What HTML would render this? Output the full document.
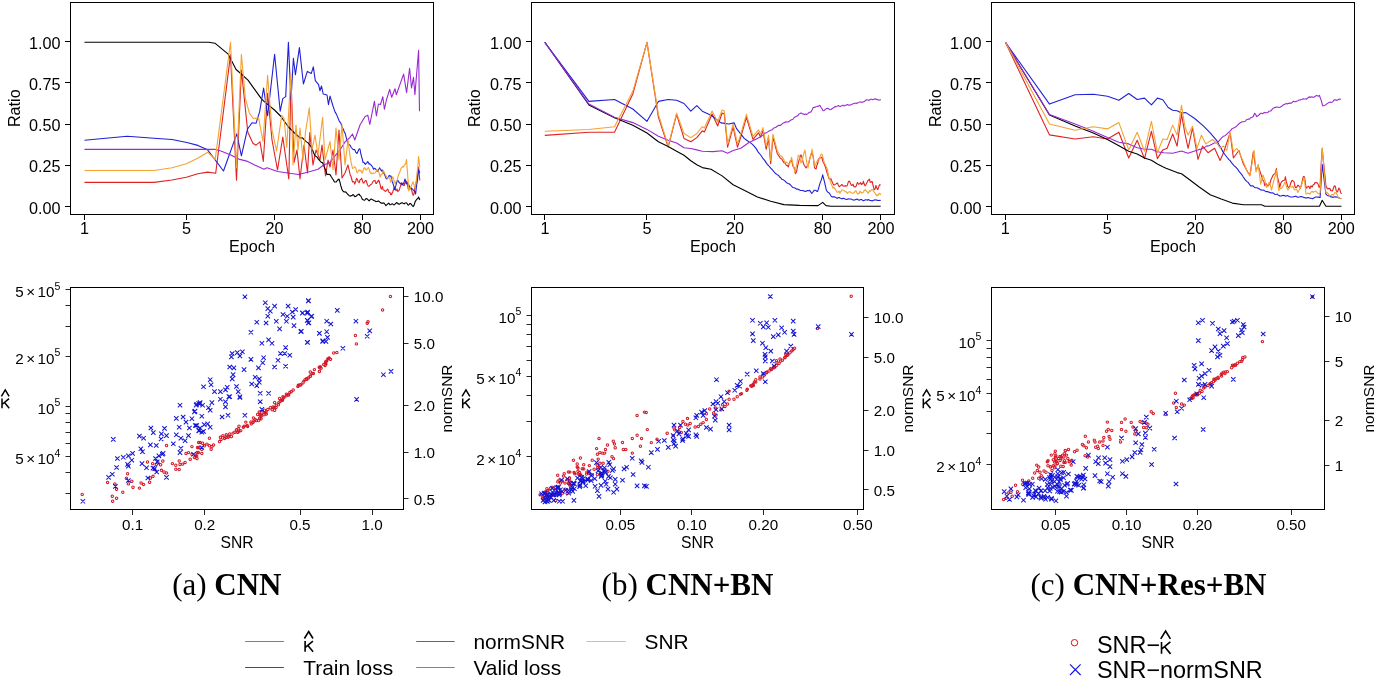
<!DOCTYPE html>
<html><head><meta charset="utf-8"><style>
html,body{margin:0;padding:0;background:#fff;width:1374px;height:679px;overflow:hidden}
svg{display:block;will-change:transform}
</style></head><body>
<svg width="1374" height="679" viewBox="0 0 1374 679">
<rect width="1374" height="679" fill="#fff"/>
<path d="M84.50,182.40 L154.00,182.40 L172.00,180.00 L186.30,177.30 L197.80,173.70 L207.70,172.10 L215.70,173.30 L230.50,54.90 L236.50,180.30 L241.40,70.10 L247.80,132.20 L252.90,143.20 L256.00,145.20 L260.00,141.90 L263.30,161.50 L267.60,93.30 L272.00,140.00 L277.50,170.00 L282.80,137.00 L288.80,179.00 L291.00,80.00 L294.00,162.50 L297.00,150.00 L300.00,179.00 L304.00,145.00 L307.50,173.00 L309.80,132.50 L313.00,165.00 L316.00,150.00 L320.00,160.00 L322.00,145.00 L325.50,176.00 L328.00,160.00 L330.00,167.00 L333.00,150.00 L336.00,175.00 L339.00,130.00 L342.00,178.00 L345.00,173.00 L348.00,165.00 L350.15,174.67 L351.11,176.74 L352.50,182.00 L353.88,181.53 L354.78,184.13 L355.67,181.61 L356.55,178.25 L357.41,179.62 L358.26,181.81 L359.10,182.76 L360.00,180.00 L360.75,179.46 L361.55,178.31 L362.35,180.29 L363.14,183.05 L363.92,182.98 L364.69,181.64 L365.44,180.61 L366.20,180.61 L367.50,185.00 L368.39,186.31 L369.11,186.27 L369.82,185.41 L370.52,184.76 L371.21,184.29 L371.90,183.86 L372.58,182.10 L373.25,181.22 L373.91,180.83 L375.00,180.50 L375.86,183.40 L376.50,183.50 L377.13,181.92 L377.76,181.94 L378.37,180.27 L378.99,180.29 L379.59,182.58 L380.19,184.90 L380.79,187.91 L381.38,189.06 L382.50,186.50 L383.12,189.79 L383.69,189.97 L384.25,190.27 L384.81,190.91 L385.36,191.43 L385.91,191.09 L386.46,190.33 L386.99,189.86 L387.53,189.08 L388.06,189.75 L388.59,191.44 L389.11,192.45 L390.00,192.50 L390.65,194.63 L391.15,193.83 L391.66,194.63 L392.15,192.95 L392.65,192.32 L393.14,190.66 L393.62,189.87 L394.10,187.76 L394.58,187.35 L395.06,186.89 L395.53,189.27 L396.00,190.73 L397.00,189.00 L397.83,191.71 L398.29,190.88 L398.73,190.69 L399.18,190.34 L399.62,188.79 L400.06,187.19 L400.50,186.47 L400.93,184.60 L401.36,182.75 L401.79,182.72 L402.21,183.41 L402.63,183.50 L403.05,184.71 L403.46,185.38 L403.88,185.48 L404.29,185.56 L405.00,182.00 L405.90,182.80 L406.30,182.02 L406.70,181.14 L407.09,182.76 L407.48,184.76 L407.87,186.97 L408.25,189.06 L408.64,188.88 L409.02,188.30 L409.40,188.26 L410.00,189.00 L410.89,187.51 L411.25,188.90 L411.62,190.07 L411.98,191.27 L412.34,193.12 L412.70,193.69 L413.06,195.45 L414.00,194.00 L414.82,188.54 L415.16,186.19 L415.51,185.57 L415.85,184.02 L416.19,182.18 L416.53,181.78 L416.86,180.20 L417.20,177.89 L417.53,175.47 L417.86,171.51 L418.60,167.00 L419.80,180.50" fill="none" stroke="#E02222" stroke-width="1.1" stroke-linejoin="round"/>
<path d="M84.50,42.30 L208.90,42.30 L214.90,43.20 L228.20,54.20 L236.10,69.50 L240.70,73.50 L248.00,80.10 L261.30,98.60 L264.00,101.30 L274.50,110.00 L280.50,116.00 L288.50,127.00 L294.00,132.50 L300.16,138.01 L302.24,137.69 L304.50,140.00 L306.20,141.61 L308.10,142.88 L310.50,146.00 L311.72,147.70 L313.46,152.43 L315.00,155.80 L316.80,156.87 L318.40,159.11 L319.97,160.95 L321.49,162.55 L322.50,162.50 L324.44,167.62 L325.87,170.53 L327.00,174.50 L328.63,174.25 L330.00,174.60 L331.27,176.74 L332.55,178.76 L333.81,180.63 L334.50,182.00 L336.24,182.01 L337.43,180.26 L339.00,179.00 L339.74,181.48 L340.86,185.89 L342.00,189.60 L343.04,191.06 L344.11,191.98 L345.16,191.88 L346.19,192.32 L347.20,193.70 L348.20,194.78 L349.19,195.58 L350.15,196.28 L351.00,195.60 L352.05,195.58 L352.97,194.48 L353.88,195.43 L354.78,196.65 L355.67,196.45 L356.55,195.75 L357.41,194.94 L358.26,194.44 L359.10,194.14 L360.00,195.60 L360.75,195.89 L361.55,197.63 L362.30,199.30 L363.14,199.81 L363.92,200.10 L364.69,200.23 L365.44,199.26 L366.20,198.45 L366.94,198.75 L367.67,199.43 L368.39,200.11 L369.11,200.88 L369.82,200.07 L370.52,199.27 L371.21,199.07 L371.90,199.34 L372.58,199.82 L373.25,200.01 L373.91,200.61 L375.00,200.80 L375.86,201.64 L376.50,201.51 L377.13,201.50 L377.76,201.14 L378.37,200.92 L378.99,201.24 L379.59,202.04 L380.19,202.38 L380.79,202.78 L381.38,203.28 L381.96,203.15 L382.54,203.08 L383.12,203.11 L383.69,202.90 L384.25,203.20 L384.81,204.03 L385.36,204.60 L385.91,205.68 L387.00,204.60 L388.06,203.56 L388.59,203.11 L389.11,203.46 L389.63,204.42 L390.14,204.65 L390.65,204.69 L391.15,204.36 L391.66,203.99 L392.15,203.78 L392.65,203.92 L393.14,204.38 L393.62,204.73 L394.10,204.85 L394.58,204.69 L395.06,204.22 L395.53,203.44 L396.00,203.31 L396.46,202.63 L396.92,202.81 L397.38,203.03 L397.83,203.59 L398.29,203.57 L398.73,204.32 L399.18,204.25 L399.62,204.00 L400.06,203.62 L400.50,203.31 L400.93,203.35 L401.36,202.93 L401.79,202.83 L402.21,202.69 L402.63,203.10 L403.05,203.33 L403.46,203.48 L403.88,203.45 L404.29,203.89 L405.00,203.00 L405.90,202.97 L406.30,202.81 L406.70,202.92 L407.09,203.58 L407.48,204.36 L407.87,204.86 L408.25,205.19 L408.64,205.03 L409.02,204.46 L409.40,204.30 L409.77,203.59 L410.15,203.46 L410.52,203.53 L410.89,203.68 L411.25,204.45 L411.62,204.72 L411.98,205.32 L412.34,205.77 L412.70,206.00 L413.06,206.57 L414.00,205.30 L414.82,202.73 L415.16,201.61 L415.51,201.19 L415.85,200.53 L416.19,200.06 L416.53,199.88 L416.86,199.10 L417.20,199.01 L417.53,198.88 L417.86,198.41 L418.60,197.00 L419.80,200.00" fill="none" stroke="#000000" stroke-width="1.1" stroke-linejoin="round"/>
<path d="M84.50,140.30 L127.20,136.30 L154.10,138.30 L172.00,139.50 L186.90,142.50 L197.80,145.40 L207.60,149.80 L223.50,171.00 L236.80,133.90 L241.40,155.80 L247.40,129.30 L252.00,122.70 L256.00,123.30 L259.60,111.90 L263.60,88.00 L267.60,115.80 L274.60,54.20 L280.20,111.20 L282.80,98.60 L285.70,96.60 L288.40,42.30 L291.00,100.00 L293.40,58.20 L295.40,74.80 L299.40,47.60 L303.40,84.00 L307.30,71.40 L311.30,73.40 L313.30,66.80 L315.30,80.70 L318.60,84.70 L319.90,90.70 L321.50,86.00 L323.20,94.00 L327.00,95.00 L328.50,104.60 L330.00,96.00 L333.20,106.60 L335.00,111.90 L336.24,113.88 L337.43,116.60 L339.00,120.50 L339.74,121.89 L340.86,123.03 L341.96,127.17 L343.50,129.50 L344.11,131.40 L345.16,133.38 L346.19,137.29 L347.20,140.97 L348.80,144.50 L350.15,145.21 L351.11,147.22 L352.50,149.00 L353.88,149.67 L354.78,149.64 L355.67,152.08 L357.00,153.50 L358.26,150.70 L359.10,148.88 L360.00,149.00 L360.75,153.48 L361.55,156.73 L362.35,159.29 L363.00,162.50 L363.92,162.39 L364.69,163.70 L365.44,164.35 L366.20,163.34 L366.94,162.88 L367.67,161.61 L368.39,162.34 L369.00,164.00 L369.82,163.82 L370.52,164.83 L371.21,165.01 L371.90,166.03 L372.58,166.83 L373.50,169.30 L374.57,168.30 L375.22,168.62 L375.86,169.33 L376.50,170.53 L377.13,171.33 L377.76,171.08 L378.37,170.27 L378.99,169.07 L379.59,167.84 L380.19,168.74 L380.79,169.50 L381.38,170.99 L382.50,170.00 L383.12,172.39 L383.69,172.86 L384.25,173.98 L384.81,175.14 L385.36,176.40 L385.91,178.07 L387.00,179.00 L388.06,177.41 L388.59,176.80 L389.11,175.35 L389.63,175.74 L390.14,176.22 L391.00,176.00 L391.66,179.68 L392.15,181.48 L392.65,182.46 L393.14,184.01 L393.62,185.33 L394.50,189.60 L395.53,186.67 L396.00,185.18 L396.46,183.15 L397.50,180.00 L398.29,180.93 L398.73,181.90 L399.18,182.36 L399.62,182.95 L400.06,183.45 L400.50,183.75 L400.93,183.28 L401.36,183.65 L402.00,185.00 L402.63,184.36 L403.05,183.94 L403.46,183.71 L403.88,182.59 L404.29,181.42 L405.00,179.00 L406.50,184.00 L407.48,182.86 L407.87,183.44 L408.25,184.09 L408.64,184.64 L409.02,185.49 L409.40,186.30 L409.77,187.07 L410.15,188.04 L411.00,188.00 L411.62,188.76 L411.98,188.56 L412.34,188.86 L412.70,189.38 L413.06,189.68 L413.42,190.09 L413.77,190.38 L414.12,190.88 L414.47,191.20 L414.82,191.43 L415.60,194.00 L416.53,185.91 L416.86,183.68 L417.20,182.05 L417.53,179.52 L417.86,176.57 L418.60,170.00 L419.80,173.00" fill="none" stroke="#2020D8" stroke-width="1.1" stroke-linejoin="round"/>
<path d="M84.50,149.40 L214.90,149.20 L221.50,151.20 L230.80,155.10 L238.80,159.10 L246.70,161.10 L254.70,165.10 L264.00,169.30 L267.00,167.80 L277.50,171.50 L288.00,173.00 L298.50,174.50 L307.50,172.30 L318.00,169.30 L324.00,164.80 L330.00,162.50 L335.00,155.80 L340.00,150.00 L345.00,142.00 L349.50,137.80 L352.50,134.00 L354.80,140.00 L360.00,125.00 L365.10,116.50 L367.80,115.20 L369.80,124.50 L374.40,101.30 L376.40,115.90 L378.40,104.00 L380.50,104.50 L382.80,96.70 L384.40,109.30 L386.40,100.00 L389.70,89.40 L391.70,97.30 L395.00,88.70 L396.30,94.70 L403.60,74.10 L406.60,92.70 L409.60,68.20 L411.50,88.00 L413.50,77.40 L414.90,94.70 L418.60,50.20 L419.50,111.20" fill="none" stroke="#9A2AD2" stroke-width="1.1" stroke-linejoin="round"/>
<path d="M84.50,170.50 L154.00,170.50 L172.00,167.70 L186.30,163.70 L197.80,158.20 L207.70,152.20 L215.20,159.50 L230.50,42.30 L236.50,168.00 L241.40,54.20 L245.40,98.60 L249.40,113.20 L253.30,118.50 L258.60,117.90 L263.00,141.50 L267.60,75.40 L272.00,130.00 L276.60,150.90 L281.70,115.30 L284.00,118.00 L286.80,147.50 L290.80,73.40 L293.00,165.00 L296.00,125.00 L298.00,150.00 L300.00,128.00 L303.00,160.00 L305.50,132.00 L309.30,107.90 L312.00,150.00 L315.00,135.00 L318.00,155.00 L322.60,117.20 L325.00,160.00 L330.00,141.50 L333.00,170.00 L336.00,128.00 L339.00,160.00 L342.00,125.00 L345.00,165.00 L348.00,140.00 L350.15,156.89 L351.11,162.27 L352.50,168.50 L353.88,167.64 L354.78,166.71 L355.67,167.54 L356.55,171.59 L357.41,172.72 L358.26,171.03 L359.10,169.77 L360.00,171.00 L360.75,170.22 L361.55,172.29 L362.35,172.98 L363.14,170.50 L363.92,168.30 L364.69,167.72 L365.44,168.76 L366.20,170.21 L367.50,168.50 L368.39,167.51 L369.11,169.13 L369.82,171.80 L370.52,173.16 L371.21,172.91 L371.90,173.81 L372.58,173.05 L373.25,173.30 L373.91,173.33 L375.00,173.00 L375.86,171.69 L376.50,170.68 L377.13,169.73 L377.76,169.98 L378.37,171.30 L378.99,172.58 L379.59,174.71 L380.19,177.07 L380.79,175.44 L381.38,173.99 L382.50,174.00 L383.12,170.43 L383.69,171.93 L384.25,172.07 L384.81,173.37 L385.36,174.77 L385.91,175.37 L386.46,177.27 L386.99,177.81 L387.53,178.40 L388.06,177.81 L388.59,177.44 L389.11,177.75 L390.00,179.00 L390.65,182.19 L391.15,181.42 L391.66,179.74 L392.15,178.32 L392.65,176.70 L393.14,178.08 L393.62,179.28 L394.10,181.14 L394.58,181.98 L395.06,183.51 L395.53,182.64 L396.00,181.49 L397.00,181.00 L397.83,177.28 L398.29,175.53 L398.73,174.79 L399.18,173.02 L399.62,172.73 L400.06,170.75 L400.50,170.44 L400.93,168.86 L401.36,168.08 L401.79,167.36 L402.21,167.30 L402.63,166.55 L403.50,167.00 L404.29,165.22 L404.70,164.82 L405.10,164.11 L405.50,164.03 L406.50,159.50 L407.48,172.41 L407.87,178.21 L408.80,191.00 L409.77,188.37 L410.15,188.74 L410.52,187.54 L410.89,187.31 L411.25,186.18 L412.00,184.00 L412.70,182.16 L413.06,181.81 L413.42,183.46 L413.77,184.27 L414.12,185.46 L415.00,188.00 L415.85,183.71 L416.19,181.19 L416.53,177.81 L416.86,174.37 L417.20,172.01 L417.53,169.44 L417.86,165.98 L418.60,156.50 L419.80,167.00" fill="none" stroke="#F5A232" stroke-width="1.1" stroke-linejoin="round"/>
<path d="M544.80,135.40 L588.90,132.20 L614.50,132.20 L632.80,94.00 L647.00,42.30 L658.40,117.20 L668.20,147.10 L676.60,114.40 L684.00,138.40 L690.80,141.70 L696.80,137.60 L702.30,130.80 L704.40,132.00 L712.10,114.00 L717.70,126.00 L722.10,113.00 L724.30,114.00 L727.60,147.10 L733.10,127.20 L737.50,147.10 L740.80,137.00 L746.40,117.30 L753.00,139.40 L758.50,132.80 L760.70,137.20 L762.90,130.60 L766.20,149.30 L768.50,138.30 L770.70,163.70 L772.90,137.20 L777.30,153.70 L780.37,158.10 L781.89,159.17 L783.90,162.60 L784.84,162.83 L786.27,165.30 L787.66,165.87 L788.30,167.00 L789.03,164.33 L790.36,160.78 L791.60,160.40 L792.95,166.17 L794.21,167.53 L795.50,173.70 L796.64,171.25 L797.83,164.96 L798.99,160.40 L800.14,156.35 L801.00,154.90 L802.36,158.79 L803.44,163.70 L804.51,165.56 L806.00,168.00 L807.60,165.32 L808.60,164.01 L809.59,159.48 L810.55,156.02 L812.10,152.30 L813.37,157.40 L814.50,168.00 L815.18,168.37 L816.07,168.96 L816.95,165.25 L817.60,163.80 L818.66,159.13 L819.50,158.10 L820.33,157.92 L821.15,157.69 L822.00,157.20 L822.75,161.23 L823.54,162.80 L824.32,164.23 L825.09,166.20 L826.40,170.40 L827.34,173.87 L828.07,175.49 L828.79,177.98 L829.51,179.37 L830.22,179.05 L830.92,178.76 L832.00,181.40 L832.98,183.81 L833.65,184.94 L834.31,184.69 L834.97,184.69 L835.62,184.18 L836.40,183.60 L837.53,182.98 L838.16,184.75 L838.77,186.04 L839.39,186.73 L839.99,186.06 L840.59,185.66 L841.19,185.33 L841.78,184.58 L842.36,184.68 L843.00,185.90 L844.09,186.18 L844.65,185.93 L845.21,185.67 L845.76,186.22 L846.31,185.97 L846.86,185.96 L847.39,184.90 L847.93,183.24 L848.46,181.63 L848.99,181.08 L849.60,181.40 L850.54,183.39 L851.05,184.93 L851.55,185.42 L852.06,185.12 L852.55,185.22 L853.05,184.31 L854.00,186.90 L854.98,186.81 L855.46,186.97 L855.93,186.33 L856.40,185.59 L856.86,184.14 L857.32,182.62 L857.78,182.83 L858.23,183.59 L858.69,184.30 L859.13,183.91 L859.58,183.76 L860.60,182.50 L861.33,184.54 L861.76,184.51 L862.19,183.57 L862.61,183.58 L863.03,182.48 L863.45,181.23 L863.86,183.29 L864.28,184.16 L865.00,185.80 L865.90,184.74 L866.30,183.72 L866.70,182.85 L867.10,182.61 L867.49,181.38 L867.88,180.49 L868.27,179.99 L868.65,180.15 L869.50,179.20 L870.17,182.27 L870.55,182.33 L870.92,182.10 L871.29,182.13 L871.65,181.47 L872.02,181.61 L872.38,181.98 L872.74,183.97 L873.10,185.78 L873.46,187.01 L873.82,188.73 L874.17,189.81 L875.00,189.20 L875.91,185.46 L876.25,186.50 L876.59,187.71 L876.93,188.14 L877.26,188.89 L877.60,189.56 L877.93,189.57 L878.26,188.40 L878.59,187.41 L878.92,186.25 L879.25,185.21 L879.57,184.72 L879.89,185.08 L880.70,184.80" fill="none" stroke="#E02222" stroke-width="1.1" stroke-linejoin="round"/>
<path d="M544.80,42.30 L588.90,104.90 L614.50,117.70 L632.80,125.30 L647.00,133.00 L658.40,141.70 L668.20,146.60 L676.60,151.20 L684.00,155.30 L690.80,160.80 L696.80,164.80 L702.30,167.60 L711.00,169.30 L722.10,175.90 L733.10,184.80 L744.20,190.30 L757.40,196.90 L770.70,201.30 L783.90,204.60 L799.40,205.40 L818.00,205.60 L822.70,202.40 L826.00,205.60 L830.80,206.20 L880.70,206.20" fill="none" stroke="#000000" stroke-width="1.1" stroke-linejoin="round"/>
<path d="M544.80,42.30 L588.90,101.40 L614.50,99.50 L632.80,109.00 L647.00,121.30 L658.40,101.40 L668.20,99.50 L676.60,100.30 L684.00,103.50 L690.80,111.20 L696.80,105.70 L702.30,111.20 L711.00,115.20 L721.00,122.90 L728.70,124.00 L734.20,122.90 L736.40,128.40 L744.20,138.40 L746.41,140.05 L749.00,141.90 L751.90,143.90 L753.88,145.87 L756.19,148.61 L758.41,152.49 L760.70,155.00 L762.64,158.06 L764.65,160.39 L766.60,163.37 L768.50,165.52 L770.70,168.20 L772.12,169.51 L773.86,171.70 L775.55,173.54 L777.20,174.61 L778.80,175.76 L779.50,177.00 L780.37,177.37 L781.89,179.29 L783.39,179.83 L784.84,180.90 L786.27,182.42 L787.66,183.29 L788.30,183.60 L789.03,183.72 L790.36,184.76 L791.67,186.33 L792.95,187.47 L794.21,187.78 L795.44,188.22 L796.60,189.20 L797.83,189.00 L798.99,189.66 L800.14,190.34 L801.26,190.54 L802.36,190.45 L803.44,190.66 L804.51,191.26 L805.50,191.40 L806.59,190.89 L807.60,190.53 L808.60,190.79 L809.50,190.20 L810.55,191.58 L811.80,193.50 L812.45,192.73 L813.37,191.44 L814.30,190.20 L815.18,190.22 L816.07,190.51 L816.95,191.43 L817.60,191.40 L818.66,188.06 L819.50,184.82 L820.33,182.38 L821.15,180.28 L821.95,177.89 L822.70,174.80 L823.54,178.27 L824.32,181.21 L825.09,184.61 L826.40,190.30 L827.34,191.72 L828.07,192.19 L828.79,192.56 L829.51,193.66 L830.22,194.51 L830.92,195.76 L832.00,196.90 L832.98,196.85 L833.65,196.85 L834.31,196.78 L834.97,197.12 L835.62,197.43 L836.26,197.85 L836.90,198.15 L837.53,198.15 L838.16,197.80 L838.77,197.59 L839.39,197.56 L839.99,197.92 L840.59,198.16 L841.19,198.63 L841.78,198.82 L842.36,198.63 L842.94,198.42 L843.52,198.37 L844.09,198.53 L845.20,199.10 L846.31,199.59 L846.86,199.43 L847.39,199.11 L847.93,198.99 L848.46,198.82 L848.99,198.95 L849.51,199.02 L850.03,199.05 L850.54,199.05 L851.05,199.03 L851.55,199.28 L852.06,199.52 L852.55,199.66 L853.05,199.93 L853.54,200.08 L854.02,200.10 L854.50,199.89 L854.98,199.80 L856.00,199.60 L856.86,199.04 L857.32,199.37 L857.78,199.54 L858.23,199.81 L858.69,200.18 L859.13,200.12 L859.58,199.94 L860.02,199.89 L860.46,199.61 L860.90,199.49 L861.33,199.52 L861.76,199.64 L862.19,200.09 L862.61,200.23 L863.03,200.69 L863.45,200.76 L863.86,200.60 L864.28,200.45 L864.69,200.08 L865.10,199.92 L865.50,199.84 L865.90,199.66 L866.30,199.85 L867.30,200.20 L868.27,199.55 L868.65,199.75 L869.04,200.05 L869.42,200.09 L869.80,200.45 L870.17,200.49 L870.55,200.58 L870.92,200.71 L871.29,200.57 L871.65,200.67 L872.02,200.75 L872.38,200.86 L872.74,200.62 L873.10,200.53 L873.46,200.34 L873.82,200.31 L874.17,200.14 L874.52,200.06 L874.87,199.78 L875.22,199.87 L875.56,200.04 L875.91,199.95 L876.25,200.02 L876.59,200.23 L876.93,200.15 L877.26,200.32 L877.60,200.37 L877.93,200.38 L878.26,200.44 L878.59,200.54 L878.92,200.49 L879.25,200.38 L879.57,200.46 L879.89,200.54 L880.70,200.20" fill="none" stroke="#2020D8" stroke-width="1.1" stroke-linejoin="round"/>
<path d="M544.80,42.30 L588.90,104.10 L614.50,117.20 L632.80,122.60 L647.00,129.40 L658.40,136.20 L668.20,140.30 L676.60,143.00 L684.00,147.70 L690.80,148.50 L696.80,149.90 L702.30,151.20 L713.20,151.60 L722.00,150.80 L727.60,153.20 L733.10,150.50 L740.80,148.30 L748.60,142.80 L757.40,138.40 L760.56,136.73 L762.64,135.37 L764.65,133.25 L766.20,132.90 L768.50,131.34 L770.33,130.44 L772.12,129.85 L773.86,127.93 L775.55,127.54 L777.30,126.20 L778.80,125.24 L780.37,125.48 L781.89,124.09 L783.39,122.92 L784.84,122.38 L786.27,121.84 L787.66,121.95 L789.03,121.66 L790.00,120.70 L791.67,119.61 L792.95,119.25 L794.21,117.68 L795.44,116.73 L796.64,116.28 L797.83,115.58 L798.99,113.98 L800.14,113.58 L801.00,113.00 L802.36,113.76 L803.44,114.12 L804.51,114.52 L805.50,114.00 L806.59,114.49 L807.60,113.90 L808.60,112.95 L809.59,112.23 L811.00,111.90 L812.45,109.28 L813.20,107.50 L814.28,107.34 L815.18,107.15 L816.07,106.77 L816.95,106.50 L817.81,106.15 L818.66,106.15 L819.80,105.30 L821.15,107.56 L821.95,108.51 L823.10,110.80 L824.32,110.48 L825.09,109.69 L826.40,108.60 L827.34,108.33 L828.07,108.47 L828.79,108.95 L829.70,109.70 L830.92,109.50 L831.61,108.96 L832.30,108.47 L832.98,108.04 L833.65,107.76 L834.31,107.24 L835.30,106.40 L836.26,106.72 L836.90,106.40 L837.53,105.98 L838.16,105.61 L838.77,105.82 L839.39,106.27 L839.99,106.52 L840.59,106.23 L841.19,106.00 L841.78,105.80 L842.36,105.45 L842.94,105.14 L843.52,105.61 L844.09,105.97 L845.20,105.30 L846.31,105.20 L846.86,104.68 L847.39,104.54 L847.93,104.83 L848.46,105.12 L848.99,105.26 L849.51,105.00 L850.03,105.05 L850.54,104.90 L851.05,104.70 L851.55,104.50 L852.06,104.24 L852.55,104.05 L853.05,103.74 L853.54,103.60 L854.02,103.39 L854.50,103.35 L854.98,103.20 L855.46,103.28 L856.20,103.10 L856.86,103.49 L857.32,103.10 L857.78,102.81 L858.23,102.64 L858.69,102.39 L859.13,102.13 L859.58,102.06 L860.02,102.06 L860.46,102.07 L860.90,102.31 L861.33,102.34 L861.76,102.12 L862.19,102.16 L862.61,101.97 L863.03,101.99 L863.45,102.01 L863.86,101.83 L864.28,101.43 L864.69,101.20 L865.10,100.81 L865.50,100.63 L865.90,100.16 L866.30,99.81 L866.70,99.77 L867.10,99.98 L867.49,99.99 L867.88,100.09 L868.27,100.20 L868.65,100.28 L869.04,100.37 L869.42,99.99 L869.80,99.68 L870.60,99.30 L871.29,99.18 L871.65,99.21 L872.02,99.45 L872.38,99.56 L872.74,99.70 L873.10,99.54 L873.46,99.54 L873.82,99.29 L874.17,99.15 L874.52,99.00 L874.87,98.90 L875.22,98.85 L875.56,98.95 L875.91,99.17 L876.25,99.14 L876.59,99.51 L876.93,99.49 L877.26,99.83 L877.60,99.78 L877.93,99.74 L878.26,99.82 L878.59,100.01 L878.92,99.99 L879.25,99.99 L879.57,100.06 L879.89,100.12 L880.70,99.30" fill="none" stroke="#9A2AD2" stroke-width="1.1" stroke-linejoin="round"/>
<path d="M544.80,131.30 L588.90,129.50 L614.50,126.70 L632.80,91.30 L647.00,42.30 L658.40,114.40 L668.20,145.80 L676.60,113.10 L684.00,133.50 L690.80,137.60 L696.80,133.50 L702.30,126.70 L704.40,128.00 L712.10,111.00 L717.70,122.00 L722.10,109.90 L724.30,111.00 L727.60,144.10 L733.10,124.20 L737.50,144.10 L740.80,134.00 L746.40,114.30 L753.00,136.40 L758.50,129.80 L760.70,134.20 L762.90,127.60 L766.20,146.30 L768.50,135.30 L770.70,160.70 L772.90,134.20 L777.30,150.70 L780.37,155.71 L781.89,156.38 L783.90,159.60 L784.84,162.63 L786.27,162.04 L787.66,163.01 L788.30,164.00 L789.03,163.92 L790.36,162.39 L791.60,157.40 L792.95,164.28 L794.21,169.15 L794.90,172.80 L796.64,164.81 L798.30,155.20 L798.99,155.36 L800.14,158.98 L801.00,163.00 L802.36,160.03 L803.44,154.65 L805.00,150.00 L806.59,161.46 L808.00,168.00 L808.60,163.79 L809.59,158.70 L810.55,156.49 L812.10,149.00 L813.37,158.89 L814.28,164.30 L815.00,166.00 L816.07,163.56 L816.95,161.44 L817.81,159.87 L819.00,160.00 L820.33,156.12 L821.15,153.95 L822.00,154.20 L822.75,156.68 L823.54,159.75 L824.32,162.91 L825.09,164.18 L826.40,167.00 L827.34,169.29 L828.07,173.24 L828.79,177.03 L829.51,179.31 L830.22,181.04 L830.92,183.12 L831.61,185.13 L832.30,185.98 L833.10,188.30 L834.31,187.57 L834.97,188.77 L835.62,189.90 L836.26,190.72 L836.90,191.95 L837.53,192.20 L838.16,192.23 L839.00,191.00 L839.99,193.36 L840.59,191.70 L841.19,191.23 L841.78,190.09 L842.36,190.02 L842.94,190.06 L843.52,190.24 L844.09,190.57 L845.20,191.60 L846.31,191.87 L846.86,192.51 L847.39,193.39 L847.93,192.67 L848.46,192.16 L848.99,192.07 L849.51,191.68 L850.03,191.71 L850.54,192.19 L851.05,192.48 L852.00,193.00 L853.05,193.33 L853.54,193.26 L854.02,192.53 L854.50,192.22 L854.98,191.13 L855.46,191.06 L855.93,190.88 L856.40,191.67 L856.86,192.80 L857.32,193.59 L857.78,194.22 L858.23,193.78 L858.69,193.22 L859.13,193.45 L860.00,191.00 L860.90,192.43 L861.33,192.18 L861.76,193.16 L862.19,192.68 L862.61,192.79 L863.03,192.39 L863.45,192.15 L863.86,190.96 L864.28,190.22 L864.69,189.93 L865.10,189.44 L865.50,190.24 L865.90,190.35 L866.30,190.82 L866.70,191.47 L867.10,191.57 L867.49,192.24 L867.88,193.18 L868.27,192.69 L868.65,192.94 L869.50,190.50 L870.17,191.54 L870.55,190.95 L870.92,190.56 L871.29,190.07 L871.65,189.77 L872.02,189.55 L872.38,189.84 L872.74,189.93 L873.10,190.52 L873.46,191.36 L873.82,191.55 L874.17,192.08 L875.00,193.00 L875.91,194.79 L876.25,194.64 L876.59,195.69 L876.93,195.43 L877.26,195.67 L877.60,195.48 L877.93,194.78 L878.26,194.31 L878.59,194.60 L878.92,193.81 L879.25,193.50 L879.57,193.42 L879.89,193.46 L880.70,194.90" fill="none" stroke="#F5A232" stroke-width="1.1" stroke-linejoin="round"/>
<path d="M1005.40,42.30 L1049.50,134.90 L1075.10,139.00 L1093.30,136.80 L1107.50,139.00 L1118.90,132.20 L1128.70,158.00 L1137.20,140.30 L1144.50,158.60 L1151.40,131.30 L1157.40,158.60 L1162.80,149.90 L1167.10,148.30 L1172.70,134.00 L1177.10,146.10 L1181.50,114.10 L1184.80,133.00 L1188.10,148.30 L1192.50,128.00 L1198.00,159.40 L1202.50,146.10 L1208.00,152.70 L1214.60,148.30 L1220.10,160.50 L1223.40,153.00 L1230.10,132.90 L1233.40,158.00 L1238.90,150.50 L1243.30,163.80 L1247.70,172.00 L1250.00,175.00 L1253.30,151.80 L1256.00,170.00 L1258.20,166.00 L1261.50,175.90 L1262.76,180.12 L1263.84,181.20 L1264.80,185.80 L1265.96,183.70 L1266.99,184.72 L1268.00,186.08 L1269.00,184.71 L1269.80,184.00 L1270.95,179.69 L1271.91,177.66 L1272.85,175.56 L1273.77,174.39 L1274.68,173.88 L1275.58,172.11 L1276.40,168.50 L1277.35,176.49 L1278.21,180.00 L1279.06,183.04 L1279.70,187.50 L1280.73,183.40 L1281.55,181.73 L1282.35,181.32 L1283.15,180.45 L1283.94,180.34 L1284.72,180.10 L1285.40,176.70 L1286.24,181.71 L1287.00,183.89 L1287.74,186.59 L1288.70,187.50 L1289.91,185.87 L1290.62,183.50 L1291.32,181.81 L1292.01,180.34 L1292.90,180.90 L1294.05,181.94 L1294.71,185.26 L1295.37,187.60 L1296.20,187.50 L1297.30,186.34 L1297.93,185.15 L1298.56,185.57 L1299.17,186.57 L1299.79,187.07 L1300.39,188.22 L1301.10,185.80 L1302.18,181.52 L1302.76,178.87 L1303.34,176.52 L1304.40,176.70 L1305.05,180.39 L1306.00,187.50 L1306.71,188.10 L1307.26,186.94 L1307.79,186.68 L1308.33,186.22 L1308.86,186.50 L1309.39,187.48 L1309.91,188.68 L1311.00,185.80 L1311.95,186.97 L1312.46,186.67 L1312.95,185.31 L1313.45,184.50 L1314.30,184.20 L1314.90,182.67 L1315.38,182.80 L1315.86,183.03 L1316.33,182.42 L1316.80,182.51 L1317.26,182.99 L1317.72,183.36 L1318.18,184.62 L1318.63,185.81 L1319.09,187.44 L1320.10,185.80 L1320.86,170.37 L1321.30,162.15 L1322.20,148.80 L1323.01,156.93 L1323.43,161.72 L1323.85,165.43 L1324.26,168.78 L1324.68,173.32 L1325.09,176.86 L1325.90,185.80 L1326.70,187.17 L1327.10,188.27 L1327.50,188.74 L1327.89,188.64 L1328.28,188.68 L1328.67,188.38 L1329.05,188.88 L1329.44,188.64 L1329.82,188.27 L1330.20,189.13 L1330.80,190.70 L1331.69,190.80 L1332.05,190.59 L1332.42,190.96 L1332.78,189.87 L1333.14,189.06 L1333.50,187.99 L1333.86,186.76 L1334.22,186.03 L1334.90,185.80 L1335.62,187.51 L1335.96,189.56 L1336.31,190.76 L1336.65,191.30 L1337.40,192.00 L1338.33,189.76 L1338.66,188.54 L1338.99,188.10 L1339.80,189.50 L1340.61,192.43 L1341.50,194.00" fill="none" stroke="#E02222" stroke-width="1.1" stroke-linejoin="round"/>
<path d="M1005.40,42.30 L1049.50,115.00 L1075.10,125.90 L1093.30,133.00 L1107.50,139.50 L1118.90,145.80 L1128.70,151.20 L1137.20,153.90 L1144.50,158.00 L1151.40,160.20 L1157.40,164.00 L1162.80,166.70 L1166.00,168.20 L1177.10,172.60 L1181.50,173.70 L1190.30,180.30 L1199.20,187.00 L1210.20,194.70 L1221.20,199.10 L1232.30,203.10 L1243.30,204.80 L1261.50,204.80 L1264.80,206.20 L1319.50,206.20 L1322.20,200.30 L1325.90,206.20 L1341.50,206.20" fill="none" stroke="#000000" stroke-width="1.1" stroke-linejoin="round"/>
<path d="M1005.40,42.30 L1049.50,104.10 L1075.10,94.80 L1093.30,94.30 L1107.50,96.20 L1118.90,100.30 L1128.70,93.50 L1137.20,99.50 L1144.50,98.10 L1151.40,104.90 L1157.40,98.10 L1162.80,99.70 L1168.20,107.50 L1172.70,110.30 L1177.10,110.80 L1181.50,113.00 L1185.90,112.60 L1194.70,118.50 L1203.60,126.20 L1210.20,132.90 L1216.80,140.60 L1218.81,144.53 L1220.96,148.04 L1223.40,152.70 L1225.05,154.73 L1227.00,157.26 L1228.90,159.56 L1230.10,160.50 L1230.73,161.72 L1232.52,163.94 L1234.26,165.86 L1235.95,167.27 L1236.70,168.20 L1237.60,169.20 L1239.20,171.65 L1240.77,173.35 L1242.29,175.29 L1243.30,177.00 L1245.24,179.91 L1246.67,181.42 L1248.06,182.39 L1249.90,184.80 L1250.76,185.84 L1252.07,185.79 L1253.35,186.11 L1254.61,187.50 L1255.30,187.60 L1257.04,187.79 L1258.23,188.32 L1259.39,189.05 L1260.54,189.93 L1261.50,189.90 L1262.76,190.31 L1263.84,190.14 L1264.91,190.93 L1265.96,191.64 L1266.99,191.53 L1268.00,191.64 L1269.00,192.37 L1269.80,192.40 L1270.95,193.02 L1271.91,192.90 L1272.85,192.90 L1273.77,193.52 L1274.68,194.30 L1275.58,194.44 L1276.47,194.31 L1277.35,194.16 L1278.00,194.90 L1279.06,195.65 L1279.90,195.86 L1280.73,195.93 L1281.55,196.02 L1282.35,195.53 L1283.15,195.27 L1283.94,195.48 L1284.72,195.66 L1285.49,196.10 L1286.24,196.07 L1287.00,195.79 L1287.74,195.62 L1288.47,196.06 L1289.19,196.43 L1289.91,196.69 L1290.62,196.94 L1291.32,196.94 L1292.01,197.00 L1292.70,196.99 L1293.38,196.80 L1294.50,196.50 L1295.37,196.25 L1296.02,196.37 L1296.66,196.64 L1297.30,196.97 L1297.93,197.28 L1298.56,197.17 L1299.17,196.96 L1299.79,196.80 L1300.39,196.59 L1300.99,196.64 L1301.59,196.82 L1302.18,196.88 L1302.76,196.90 L1303.34,197.14 L1303.92,197.42 L1304.49,197.51 L1305.05,197.88 L1305.61,197.91 L1306.16,198.05 L1306.71,197.89 L1307.26,197.74 L1307.79,197.62 L1308.33,197.62 L1308.86,197.74 L1309.39,198.06 L1309.91,198.29 L1311.00,198.20 L1311.95,198.57 L1312.46,198.79 L1312.95,198.44 L1313.45,198.24 L1313.94,197.80 L1314.42,197.69 L1314.90,197.34 L1315.38,197.16 L1315.86,197.06 L1316.33,196.97 L1316.80,197.06 L1317.26,197.13 L1317.72,196.97 L1318.18,197.03 L1318.63,197.27 L1319.09,197.36 L1320.10,197.40 L1320.86,185.69 L1321.30,178.71 L1322.20,164.40 L1323.01,170.53 L1323.43,174.17 L1323.85,177.60 L1324.26,181.02 L1324.68,184.40 L1325.09,187.75 L1325.90,194.00 L1326.70,194.85 L1327.10,195.19 L1327.50,195.34 L1327.89,195.67 L1328.28,195.68 L1328.67,195.79 L1329.05,196.04 L1329.44,195.96 L1329.82,196.05 L1330.20,196.18 L1330.80,197.00 L1331.69,196.77 L1332.05,197.00 L1332.42,197.05 L1332.78,197.42 L1333.14,197.36 L1333.50,197.13 L1333.86,196.93 L1334.22,196.80 L1334.90,197.00 L1335.62,196.68 L1335.96,196.78 L1336.31,196.93 L1336.65,197.08 L1336.99,197.20 L1337.33,197.29 L1337.66,197.33 L1338.00,197.48 L1338.33,197.68 L1338.66,197.87 L1338.99,197.89 L1339.32,198.10 L1339.65,198.15 L1339.97,198.46 L1340.29,198.55 L1340.61,198.54 L1341.40,198.50" fill="none" stroke="#2020D8" stroke-width="1.1" stroke-linejoin="round"/>
<path d="M1005.40,42.30 L1049.50,114.50 L1075.10,124.00 L1093.30,131.30 L1107.50,137.60 L1118.90,142.20 L1128.70,143.90 L1137.20,147.70 L1144.50,149.30 L1151.40,149.30 L1157.40,151.80 L1163.80,152.70 L1172.70,153.20 L1181.50,151.00 L1188.00,153.20 L1199.20,149.40 L1201.29,149.25 L1204.11,147.86 L1206.81,145.83 L1208.00,146.10 L1209.40,145.48 L1211.89,144.27 L1214.28,143.04 L1216.80,142.80 L1218.81,141.21 L1220.96,138.60 L1223.40,136.20 L1225.05,135.67 L1227.00,133.89 L1228.90,132.05 L1230.73,130.40 L1232.30,128.40 L1234.26,127.74 L1235.95,126.79 L1237.60,125.20 L1239.20,123.50 L1240.77,122.56 L1242.29,121.68 L1243.30,121.80 L1245.24,121.24 L1246.67,119.54 L1248.06,119.17 L1249.43,119.18 L1250.76,117.69 L1252.07,117.31 L1253.30,116.50 L1254.60,113.20 L1255.84,114.77 L1256.50,116.50 L1258.23,115.64 L1259.39,114.50 L1260.54,113.27 L1261.50,113.20 L1262.76,113.64 L1263.84,112.80 L1264.91,112.40 L1265.96,112.82 L1266.99,112.75 L1268.00,112.40 L1269.00,111.23 L1269.99,111.08 L1270.95,110.88 L1271.91,109.60 L1272.85,108.50 L1273.77,107.90 L1274.70,107.40 L1275.58,107.48 L1276.47,107.02 L1277.35,107.03 L1278.21,107.25 L1279.06,107.57 L1279.90,107.24 L1281.30,106.60 L1282.35,105.66 L1283.15,105.02 L1283.94,104.34 L1284.72,104.21 L1285.49,103.97 L1286.30,103.30 L1287.00,103.88 L1287.74,103.64 L1288.47,103.38 L1289.19,103.35 L1289.91,103.13 L1290.62,103.10 L1291.32,103.18 L1292.01,102.66 L1292.70,101.86 L1293.38,101.35 L1294.50,101.70 L1295.37,101.65 L1296.02,101.53 L1296.66,101.20 L1297.30,100.96 L1297.93,100.64 L1298.56,100.22 L1299.17,99.96 L1299.79,99.95 L1300.39,99.94 L1301.10,99.50 L1302.18,99.19 L1302.76,98.90 L1303.34,98.81 L1303.92,98.97 L1304.49,99.04 L1305.05,98.92 L1305.61,99.03 L1306.16,99.21 L1306.71,98.76 L1307.26,98.27 L1307.79,97.94 L1308.33,97.56 L1308.86,97.06 L1309.39,96.90 L1310.00,97.50 L1310.94,96.85 L1311.45,96.90 L1311.95,96.95 L1312.46,97.25 L1312.95,97.11 L1313.45,97.29 L1313.94,97.19 L1314.42,96.87 L1314.90,96.48 L1315.38,96.32 L1315.86,95.81 L1316.33,95.62 L1316.80,95.40 L1317.26,95.67 L1317.72,95.92 L1318.18,96.02 L1318.63,96.13 L1319.50,95.40 L1320.42,98.30 L1320.86,99.40 L1321.30,100.59 L1321.73,102.07 L1322.60,105.80 L1323.43,105.76 L1323.85,105.81 L1324.26,105.63 L1324.68,105.35 L1325.09,105.16 L1325.50,104.89 L1325.90,104.66 L1326.30,104.33 L1326.70,104.12 L1327.10,103.65 L1327.50,103.37 L1327.89,103.14 L1328.28,102.85 L1328.67,102.66 L1329.05,102.46 L1329.44,102.31 L1329.82,102.19 L1330.20,102.14 L1330.80,102.50 L1331.69,102.21 L1332.05,102.10 L1332.42,101.95 L1332.78,101.62 L1333.14,101.28 L1333.50,100.56 L1333.86,100.18 L1334.22,99.72 L1335.00,100.00 L1335.62,99.72 L1335.96,100.04 L1336.31,100.23 L1336.65,100.21 L1336.99,100.37 L1337.33,100.15 L1337.66,100.09 L1338.00,99.73 L1338.33,99.68 L1338.66,99.40 L1338.99,99.39 L1339.32,99.18 L1339.65,99.00 L1339.97,98.93 L1340.70,99.50" fill="none" stroke="#9A2AD2" stroke-width="1.1" stroke-linejoin="round"/>
<path d="M1005.40,42.30 L1049.50,124.00 L1075.10,130.20 L1093.30,126.70 L1107.50,128.90 L1118.90,122.60 L1128.70,149.90 L1137.20,132.20 L1144.50,151.20 L1151.40,121.30 L1157.40,152.60 L1162.80,139.00 L1167.10,139.50 L1172.70,125.10 L1177.10,135.10 L1181.50,105.30 L1184.80,126.20 L1188.10,135.10 L1192.50,126.20 L1197.00,148.30 L1201.40,135.10 L1205.80,143.90 L1212.40,139.50 L1216.80,143.00 L1220.10,148.30 L1223.40,146.00 L1226.80,150.50 L1230.10,131.80 L1233.40,152.00 L1236.70,148.30 L1239.00,152.00 L1243.30,161.60 L1247.70,172.60 L1250.00,175.90 L1254.10,150.30 L1256.00,172.00 L1258.20,164.40 L1260.70,184.20 L1263.00,175.00 L1263.84,177.53 L1264.91,180.56 L1266.50,187.50 L1268.00,185.52 L1269.00,182.51 L1269.80,183.00 L1271.50,190.00 L1272.85,184.60 L1273.77,180.64 L1274.68,177.49 L1275.58,175.12 L1276.40,170.00 L1277.35,179.64 L1278.80,190.80 L1279.90,188.53 L1280.73,188.76 L1281.55,188.37 L1282.35,187.43 L1283.15,186.03 L1283.94,184.21 L1284.60,182.50 L1285.49,183.03 L1286.24,185.55 L1287.00,188.03 L1287.90,190.00 L1289.19,188.69 L1289.91,186.76 L1290.62,186.82 L1291.32,186.99 L1292.01,187.26 L1292.90,186.00 L1294.05,188.93 L1294.71,189.93 L1295.37,189.77 L1296.02,189.79 L1296.66,189.05 L1297.80,192.50 L1298.56,191.25 L1299.17,190.10 L1299.79,189.00 L1300.39,187.45 L1300.99,185.86 L1301.59,184.54 L1302.18,183.00 L1302.76,181.27 L1303.34,179.98 L1304.40,178.00 L1305.05,185.46 L1306.00,194.00 L1306.71,193.94 L1307.26,193.76 L1307.79,192.96 L1308.33,193.19 L1308.86,193.29 L1309.39,193.84 L1309.91,194.07 L1310.43,193.43 L1310.94,192.50 L1311.45,191.78 L1311.95,191.35 L1312.46,191.35 L1312.95,192.28 L1313.45,192.38 L1314.30,191.60 L1314.90,191.40 L1315.38,191.25 L1315.86,191.07 L1316.33,191.56 L1316.80,192.12 L1317.26,192.56 L1317.72,193.06 L1318.18,193.61 L1318.63,193.97 L1319.09,194.08 L1320.10,192.50 L1320.86,177.11 L1321.30,167.43 L1322.20,147.90 L1323.01,156.19 L1323.43,161.49 L1323.85,166.92 L1324.26,172.35 L1324.68,177.93 L1325.09,183.11 L1325.90,192.50 L1326.70,192.87 L1327.10,192.48 L1327.50,192.68 L1327.89,193.45 L1328.28,193.59 L1328.67,194.64 L1329.05,194.96 L1329.44,195.36 L1329.82,195.75 L1330.20,195.71 L1330.80,195.70 L1331.69,194.59 L1332.05,194.77 L1332.42,194.57 L1332.78,194.51 L1333.14,194.56 L1333.50,195.10 L1333.86,194.31 L1334.22,194.03 L1334.90,192.50 L1335.62,192.85 L1335.96,192.95 L1336.31,192.63 L1336.65,193.80 L1336.99,194.42 L1337.33,195.25 L1337.66,196.18 L1338.00,197.19 L1338.33,197.64 L1338.66,197.64 L1338.99,197.98 L1339.32,198.17 L1339.65,198.20 L1339.97,198.08 L1340.70,199.00" fill="none" stroke="#F5A232" stroke-width="1.1" stroke-linejoin="round"/>
<path d="M83.4,494.4a1.2,1.2 0 1,0 -2.4,0a1.2,1.2 0 1,0 2.4,0M108.8,482.5a1.2,1.2 0 1,0 -2.4,0a1.2,1.2 0 1,0 2.4,0M116.1,483.9a1.2,1.2 0 1,0 -2.4,0a1.2,1.2 0 1,0 2.4,0M117.8,489.3a1.2,1.2 0 1,0 -2.4,0a1.2,1.2 0 1,0 2.4,0M113.5,496.2a1.2,1.2 0 1,0 -2.4,0a1.2,1.2 0 1,0 2.4,0M117.8,498.3a1.2,1.2 0 1,0 -2.4,0a1.2,1.2 0 1,0 2.4,0M113.9,501.3a1.2,1.2 0 1,0 -2.4,0a1.2,1.2 0 1,0 2.4,0M124.0,492.3a1.2,1.2 0 1,0 -2.4,0a1.2,1.2 0 1,0 2.4,0M128.8,473.7a1.2,1.2 0 1,0 -2.4,0a1.2,1.2 0 1,0 2.4,0M127.6,478.3a1.2,1.2 0 1,0 -2.4,0a1.2,1.2 0 1,0 2.4,0M129.6,483.9a1.2,1.2 0 1,0 -2.4,0a1.2,1.2 0 1,0 2.4,0M133.0,481.3a1.2,1.2 0 1,0 -2.4,0a1.2,1.2 0 1,0 2.4,0M134.2,487.3a1.2,1.2 0 1,0 -2.4,0a1.2,1.2 0 1,0 2.4,0M140.6,488.1a1.2,1.2 0 1,0 -2.4,0a1.2,1.2 0 1,0 2.4,0M142.3,483.0a1.2,1.2 0 1,0 -2.4,0a1.2,1.2 0 1,0 2.4,0M144.8,484.4a1.2,1.2 0 1,0 -2.4,0a1.2,1.2 0 1,0 2.4,0M150.8,482.2a1.2,1.2 0 1,0 -2.4,0a1.2,1.2 0 1,0 2.4,0M151.6,478.0a1.2,1.2 0 1,0 -2.4,0a1.2,1.2 0 1,0 2.4,0M154.2,476.3a1.2,1.2 0 1,0 -2.4,0a1.2,1.2 0 1,0 2.4,0M148.7,461.9a1.2,1.2 0 1,0 -2.4,0a1.2,1.2 0 1,0 2.4,0M153.8,463.6a1.2,1.2 0 1,0 -2.4,0a1.2,1.2 0 1,0 2.4,0M157.5,464.4a1.2,1.2 0 1,0 -2.4,0a1.2,1.2 0 1,0 2.4,0M159.2,462.7a1.2,1.2 0 1,0 -2.4,0a1.2,1.2 0 1,0 2.4,0M161.8,464.8a1.2,1.2 0 1,0 -2.4,0a1.2,1.2 0 1,0 2.4,0M164.0,461.0a1.2,1.2 0 1,0 -2.4,0a1.2,1.2 0 1,0 2.4,0M155.8,469.5a1.2,1.2 0 1,0 -2.4,0a1.2,1.2 0 1,0 2.4,0M162.6,470.3a1.2,1.2 0 1,0 -2.4,0a1.2,1.2 0 1,0 2.4,0M165.2,472.0a1.2,1.2 0 1,0 -2.4,0a1.2,1.2 0 1,0 2.4,0M167.7,472.9a1.2,1.2 0 1,0 -2.4,0a1.2,1.2 0 1,0 2.4,0M167.7,445.5a1.2,1.2 0 1,0 -2.4,0a1.2,1.2 0 1,0 2.4,0M173.6,463.6a1.2,1.2 0 1,0 -2.4,0a1.2,1.2 0 1,0 2.4,0M177.0,465.3a1.2,1.2 0 1,0 -2.4,0a1.2,1.2 0 1,0 2.4,0M180.4,461.0a1.2,1.2 0 1,0 -2.4,0a1.2,1.2 0 1,0 2.4,0M181.2,464.4a1.2,1.2 0 1,0 -2.4,0a1.2,1.2 0 1,0 2.4,0M183.8,464.1a1.2,1.2 0 1,0 -2.4,0a1.2,1.2 0 1,0 2.4,0M186.3,462.4a1.2,1.2 0 1,0 -2.4,0a1.2,1.2 0 1,0 2.4,0M177.0,469.2a1.2,1.2 0 1,0 -2.4,0a1.2,1.2 0 1,0 2.4,0M180.4,469.5a1.2,1.2 0 1,0 -2.4,0a1.2,1.2 0 1,0 2.4,0M187.2,453.4a1.2,1.2 0 1,0 -2.4,0a1.2,1.2 0 1,0 2.4,0M189.7,452.6a1.2,1.2 0 1,0 -2.4,0a1.2,1.2 0 1,0 2.4,0M193.1,454.3a1.2,1.2 0 1,0 -2.4,0a1.2,1.2 0 1,0 2.4,0M191.4,459.3a1.2,1.2 0 1,0 -2.4,0a1.2,1.2 0 1,0 2.4,0M193.1,446.6a1.2,1.2 0 1,0 -2.4,0a1.2,1.2 0 1,0 2.4,0M196.5,455.9a1.2,1.2 0 1,0 -2.4,0a1.2,1.2 0 1,0 2.4,0M198.2,452.6a1.2,1.2 0 1,0 -2.4,0a1.2,1.2 0 1,0 2.4,0M199.9,447.5a1.2,1.2 0 1,0 -2.4,0a1.2,1.2 0 1,0 2.4,0M199.9,442.4a1.2,1.2 0 1,0 -2.4,0a1.2,1.2 0 1,0 2.4,0M195.6,457.6a1.2,1.2 0 1,0 -2.4,0a1.2,1.2 0 1,0 2.4,0M198.2,458.5a1.2,1.2 0 1,0 -2.4,0a1.2,1.2 0 1,0 2.4,0M197.9,455.9a1.2,1.2 0 1,0 -2.4,0a1.2,1.2 0 1,0 2.4,0M199.6,452.6a1.2,1.2 0 1,0 -2.4,0a1.2,1.2 0 1,0 2.4,0M198.7,447.5a1.2,1.2 0 1,0 -2.4,0a1.2,1.2 0 1,0 2.4,0M201.3,442.4a1.2,1.2 0 1,0 -2.4,0a1.2,1.2 0 1,0 2.4,0M203.8,443.3a1.2,1.2 0 1,0 -2.4,0a1.2,1.2 0 1,0 2.4,0M203.0,449.2a1.2,1.2 0 1,0 -2.4,0a1.2,1.2 0 1,0 2.4,0M203.0,453.4a1.2,1.2 0 1,0 -2.4,0a1.2,1.2 0 1,0 2.4,0M205.5,445.8a1.2,1.2 0 1,0 -2.4,0a1.2,1.2 0 1,0 2.4,0M208.1,444.1a1.2,1.2 0 1,0 -2.4,0a1.2,1.2 0 1,0 2.4,0M210.6,445.8a1.2,1.2 0 1,0 -2.4,0a1.2,1.2 0 1,0 2.4,0M212.3,449.2a1.2,1.2 0 1,0 -2.4,0a1.2,1.2 0 1,0 2.4,0M213.1,446.6a1.2,1.2 0 1,0 -2.4,0a1.2,1.2 0 1,0 2.4,0M214.8,444.9a1.2,1.2 0 1,0 -2.4,0a1.2,1.2 0 1,0 2.4,0M210.6,438.2a1.2,1.2 0 1,0 -2.4,0a1.2,1.2 0 1,0 2.4,0M220.7,441.6a1.2,1.2 0 1,0 -2.4,0a1.2,1.2 0 1,0 2.4,0M221.6,437.3a1.2,1.2 0 1,0 -2.4,0a1.2,1.2 0 1,0 2.4,0M224.1,435.6a1.2,1.2 0 1,0 -2.4,0a1.2,1.2 0 1,0 2.4,0M225.8,438.2a1.2,1.2 0 1,0 -2.4,0a1.2,1.2 0 1,0 2.4,0M227.5,434.8a1.2,1.2 0 1,0 -2.4,0a1.2,1.2 0 1,0 2.4,0M229.2,437.3a1.2,1.2 0 1,0 -2.4,0a1.2,1.2 0 1,0 2.4,0M230.9,433.9a1.2,1.2 0 1,0 -2.4,0a1.2,1.2 0 1,0 2.4,0M232.6,436.5a1.2,1.2 0 1,0 -2.4,0a1.2,1.2 0 1,0 2.4,0M234.3,433.1a1.2,1.2 0 1,0 -2.4,0a1.2,1.2 0 1,0 2.4,0M236.0,432.2a1.2,1.2 0 1,0 -2.4,0a1.2,1.2 0 1,0 2.4,0M237.7,429.7a1.2,1.2 0 1,0 -2.4,0a1.2,1.2 0 1,0 2.4,0M239.4,428.9a1.2,1.2 0 1,0 -2.4,0a1.2,1.2 0 1,0 2.4,0M240.2,426.3a1.2,1.2 0 1,0 -2.4,0a1.2,1.2 0 1,0 2.4,0M241.9,430.6a1.2,1.2 0 1,0 -2.4,0a1.2,1.2 0 1,0 2.4,0M244.5,427.2a1.2,1.2 0 1,0 -2.4,0a1.2,1.2 0 1,0 2.4,0M245.3,426.3a1.2,1.2 0 1,0 -2.4,0a1.2,1.2 0 1,0 2.4,0M247.0,422.1a1.2,1.2 0 1,0 -2.4,0a1.2,1.2 0 1,0 2.4,0M252.1,422.1a1.2,1.2 0 1,0 -2.4,0a1.2,1.2 0 1,0 2.4,0M254.6,417.9a1.2,1.2 0 1,0 -2.4,0a1.2,1.2 0 1,0 2.4,0M256.3,419.5a1.2,1.2 0 1,0 -2.4,0a1.2,1.2 0 1,0 2.4,0M258.8,414.5a1.2,1.2 0 1,0 -2.4,0a1.2,1.2 0 1,0 2.4,0M260.5,411.9a1.2,1.2 0 1,0 -2.4,0a1.2,1.2 0 1,0 2.4,0M261.4,415.3a1.2,1.2 0 1,0 -2.4,0a1.2,1.2 0 1,0 2.4,0M263.1,412.8a1.2,1.2 0 1,0 -2.4,0a1.2,1.2 0 1,0 2.4,0M265.6,410.2a1.2,1.2 0 1,0 -2.4,0a1.2,1.2 0 1,0 2.4,0M267.3,411.9a1.2,1.2 0 1,0 -2.4,0a1.2,1.2 0 1,0 2.4,0M269.0,409.4a1.2,1.2 0 1,0 -2.4,0a1.2,1.2 0 1,0 2.4,0M271.5,407.7a1.2,1.2 0 1,0 -2.4,0a1.2,1.2 0 1,0 2.4,0M274.1,406.9a1.2,1.2 0 1,0 -2.4,0a1.2,1.2 0 1,0 2.4,0M275.8,410.2a1.2,1.2 0 1,0 -2.4,0a1.2,1.2 0 1,0 2.4,0M277.5,405.2a1.2,1.2 0 1,0 -2.4,0a1.2,1.2 0 1,0 2.4,0M280.0,402.6a1.2,1.2 0 1,0 -2.4,0a1.2,1.2 0 1,0 2.4,0M282.5,400.1a1.2,1.2 0 1,0 -2.4,0a1.2,1.2 0 1,0 2.4,0M285.1,397.5a1.2,1.2 0 1,0 -2.4,0a1.2,1.2 0 1,0 2.4,0M287.6,395.8a1.2,1.2 0 1,0 -2.4,0a1.2,1.2 0 1,0 2.4,0M275.8,402.6a1.2,1.2 0 1,0 -2.4,0a1.2,1.2 0 1,0 2.4,0M280.8,398.4a1.2,1.2 0 1,0 -2.4,0a1.2,1.2 0 1,0 2.4,0M284.2,396.7a1.2,1.2 0 1,0 -2.4,0a1.2,1.2 0 1,0 2.4,0M287.6,394.1a1.2,1.2 0 1,0 -2.4,0a1.2,1.2 0 1,0 2.4,0M291.0,392.4a1.2,1.2 0 1,0 -2.4,0a1.2,1.2 0 1,0 2.4,0M294.4,389.9a1.2,1.2 0 1,0 -2.4,0a1.2,1.2 0 1,0 2.4,0M301.2,384.8a1.2,1.2 0 1,0 -2.4,0a1.2,1.2 0 1,0 2.4,0M306.2,379.7a1.2,1.2 0 1,0 -2.4,0a1.2,1.2 0 1,0 2.4,0M309.6,378.0a1.2,1.2 0 1,0 -2.4,0a1.2,1.2 0 1,0 2.4,0M311.3,376.3a1.2,1.2 0 1,0 -2.4,0a1.2,1.2 0 1,0 2.4,0M320.6,371.3a1.2,1.2 0 1,0 -2.4,0a1.2,1.2 0 1,0 2.4,0M321.5,367.0a1.2,1.2 0 1,0 -2.4,0a1.2,1.2 0 1,0 2.4,0M324.9,364.5a1.2,1.2 0 1,0 -2.4,0a1.2,1.2 0 1,0 2.4,0M391.6,296.4a1.2,1.2 0 1,0 -2.4,0a1.2,1.2 0 1,0 2.4,0M383.8,309.9a1.2,1.2 0 1,0 -2.4,0a1.2,1.2 0 1,0 2.4,0M369.2,321.7a1.2,1.2 0 1,0 -2.4,0a1.2,1.2 0 1,0 2.4,0M368.4,323.3a1.2,1.2 0 1,0 -2.4,0a1.2,1.2 0 1,0 2.4,0M356.6,335.5a1.2,1.2 0 1,0 -2.4,0a1.2,1.2 0 1,0 2.4,0M357.6,343.9a1.2,1.2 0 1,0 -2.4,0a1.2,1.2 0 1,0 2.4,0M338.1,352.5a1.2,1.2 0 1,0 -2.4,0a1.2,1.2 0 1,0 2.4,0M331.7,359.3a1.2,1.2 0 1,0 -2.4,0a1.2,1.2 0 1,0 2.4,0M327.9,360.9a1.2,1.2 0 1,0 -2.4,0a1.2,1.2 0 1,0 2.4,0M327.1,364.1a1.2,1.2 0 1,0 -2.4,0a1.2,1.2 0 1,0 2.4,0M326.3,365.4a1.2,1.2 0 1,0 -2.4,0a1.2,1.2 0 1,0 2.4,0M321.4,366.6a1.2,1.2 0 1,0 -2.4,0a1.2,1.2 0 1,0 2.4,0M322.3,368.2a1.2,1.2 0 1,0 -2.4,0a1.2,1.2 0 1,0 2.4,0M320.6,371.4a1.2,1.2 0 1,0 -2.4,0a1.2,1.2 0 1,0 2.4,0M311.7,376.3a1.2,1.2 0 1,0 -2.4,0a1.2,1.2 0 1,0 2.4,0M309.3,377.9a1.2,1.2 0 1,0 -2.4,0a1.2,1.2 0 1,0 2.4,0M307.7,378.7a1.2,1.2 0 1,0 -2.4,0a1.2,1.2 0 1,0 2.4,0M305.2,381.1a1.2,1.2 0 1,0 -2.4,0a1.2,1.2 0 1,0 2.4,0M302.0,384.9a1.2,1.2 0 1,0 -2.4,0a1.2,1.2 0 1,0 2.4,0M229.7,436.8a1.2,1.2 0 1,0 -2.4,0a1.2,1.2 0 1,0 2.4,0M225.8,438.4a1.2,1.2 0 1,0 -2.4,0a1.2,1.2 0 1,0 2.4,0M240.3,431.2a1.2,1.2 0 1,0 -2.4,0a1.2,1.2 0 1,0 2.4,0M227.1,437.5a1.2,1.2 0 1,0 -2.4,0a1.2,1.2 0 1,0 2.4,0M238.5,432.1a1.2,1.2 0 1,0 -2.4,0a1.2,1.2 0 1,0 2.4,0M239.0,432.2a1.2,1.2 0 1,0 -2.4,0a1.2,1.2 0 1,0 2.4,0M222.3,439.4a1.2,1.2 0 1,0 -2.4,0a1.2,1.2 0 1,0 2.4,0M248.9,426.5a1.2,1.2 0 1,0 -2.4,0a1.2,1.2 0 1,0 2.4,0M259.8,420.5a1.2,1.2 0 1,0 -2.4,0a1.2,1.2 0 1,0 2.4,0M252.5,423.7a1.2,1.2 0 1,0 -2.4,0a1.2,1.2 0 1,0 2.4,0M248.3,425.5a1.2,1.2 0 1,0 -2.4,0a1.2,1.2 0 1,0 2.4,0M255.1,421.0a1.2,1.2 0 1,0 -2.4,0a1.2,1.2 0 1,0 2.4,0M254.1,422.4a1.2,1.2 0 1,0 -2.4,0a1.2,1.2 0 1,0 2.4,0M257.7,420.5a1.2,1.2 0 1,0 -2.4,0a1.2,1.2 0 1,0 2.4,0M279.6,404.8a1.2,1.2 0 1,0 -2.4,0a1.2,1.2 0 1,0 2.4,0M267.5,414.0a1.2,1.2 0 1,0 -2.4,0a1.2,1.2 0 1,0 2.4,0M281.3,401.4a1.2,1.2 0 1,0 -2.4,0a1.2,1.2 0 1,0 2.4,0M262.6,415.7a1.2,1.2 0 1,0 -2.4,0a1.2,1.2 0 1,0 2.4,0M273.4,409.8a1.2,1.2 0 1,0 -2.4,0a1.2,1.2 0 1,0 2.4,0M275.4,407.5a1.2,1.2 0 1,0 -2.4,0a1.2,1.2 0 1,0 2.4,0M262.2,418.7a1.2,1.2 0 1,0 -2.4,0a1.2,1.2 0 1,0 2.4,0M277.2,407.4a1.2,1.2 0 1,0 -2.4,0a1.2,1.2 0 1,0 2.4,0M266.5,412.9a1.2,1.2 0 1,0 -2.4,0a1.2,1.2 0 1,0 2.4,0M260.8,418.2a1.2,1.2 0 1,0 -2.4,0a1.2,1.2 0 1,0 2.4,0M283.6,400.3a1.2,1.2 0 1,0 -2.4,0a1.2,1.2 0 1,0 2.4,0M265.1,414.8a1.2,1.2 0 1,0 -2.4,0a1.2,1.2 0 1,0 2.4,0M289.9,395.1a1.2,1.2 0 1,0 -2.4,0a1.2,1.2 0 1,0 2.4,0M299.1,386.4a1.2,1.2 0 1,0 -2.4,0a1.2,1.2 0 1,0 2.4,0M304.2,382.8a1.2,1.2 0 1,0 -2.4,0a1.2,1.2 0 1,0 2.4,0M299.5,385.3a1.2,1.2 0 1,0 -2.4,0a1.2,1.2 0 1,0 2.4,0M289.1,395.0a1.2,1.2 0 1,0 -2.4,0a1.2,1.2 0 1,0 2.4,0M308.2,379.2a1.2,1.2 0 1,0 -2.4,0a1.2,1.2 0 1,0 2.4,0M301.3,385.1a1.2,1.2 0 1,0 -2.4,0a1.2,1.2 0 1,0 2.4,0M292.4,391.8a1.2,1.2 0 1,0 -2.4,0a1.2,1.2 0 1,0 2.4,0M308.2,379.3a1.2,1.2 0 1,0 -2.4,0a1.2,1.2 0 1,0 2.4,0M315.6,369.6a1.2,1.2 0 1,0 -2.4,0a1.2,1.2 0 1,0 2.4,0M313.3,373.4a1.2,1.2 0 1,0 -2.4,0a1.2,1.2 0 1,0 2.4,0M314.6,373.5a1.2,1.2 0 1,0 -2.4,0a1.2,1.2 0 1,0 2.4,0M311.4,376.0a1.2,1.2 0 1,0 -2.4,0a1.2,1.2 0 1,0 2.4,0M311.5,372.0a1.2,1.2 0 1,0 -2.4,0a1.2,1.2 0 1,0 2.4,0M320.5,367.2a1.2,1.2 0 1,0 -2.4,0a1.2,1.2 0 1,0 2.4,0M329.1,358.8a1.2,1.2 0 1,0 -2.4,0a1.2,1.2 0 1,0 2.4,0M330.4,357.9a1.2,1.2 0 1,0 -2.4,0a1.2,1.2 0 1,0 2.4,0M326.6,362.8a1.2,1.2 0 1,0 -2.4,0a1.2,1.2 0 1,0 2.4,0M326.9,361.6a1.2,1.2 0 1,0 -2.4,0a1.2,1.2 0 1,0 2.4,0M330.0,358.4a1.2,1.2 0 1,0 -2.4,0a1.2,1.2 0 1,0 2.4,0M334.9,353.0a1.2,1.2 0 1,0 -2.4,0a1.2,1.2 0 1,0 2.4,0M327.4,361.6a1.2,1.2 0 1,0 -2.4,0a1.2,1.2 0 1,0 2.4,0" fill="none" stroke="#D41A28" stroke-width="1.05"/>
<path d="M80.7,499.1l4.4,4.4m0,-4.4l-4.4,4.4M106.4,475.2l4.4,4.4m0,-4.4l-4.4,4.4M110.1,472.0l4.4,4.4m0,-4.4l-4.4,4.4M113.2,484.2l4.4,4.4m0,-4.4l-4.4,4.4M114.4,465.3l4.4,4.4m0,-4.4l-4.4,4.4M115.2,456.3l4.4,4.4m0,-4.4l-4.4,4.4M121.1,455.1l4.4,4.4m0,-4.4l-4.4,4.4M126.2,453.7l4.4,4.4m0,-4.4l-4.4,4.4M130.4,451.2l4.4,4.4m0,-4.4l-4.4,4.4M129.6,458.0l4.4,4.4m0,-4.4l-4.4,4.4M125.4,462.2l4.4,4.4m0,-4.4l-4.4,4.4M126.2,463.9l4.4,4.4m0,-4.4l-4.4,4.4M111.1,437.2l4.4,4.4m0,-4.4l-4.4,4.4M137.2,433.9l4.4,4.4m0,-4.4l-4.4,4.4M141.4,436.0l4.4,4.4m0,-4.4l-4.4,4.4M138.6,446.6l4.4,4.4m0,-4.4l-4.4,4.4M140.3,449.5l4.4,4.4m0,-4.4l-4.4,4.4M148.7,425.8l4.4,4.4m0,-4.4l-4.4,4.4M151.1,430.4l4.4,4.4m0,-4.4l-4.4,4.4M159.2,431.7l4.4,4.4m0,-4.4l-4.4,4.4M162.3,426.2l4.4,4.4m0,-4.4l-4.4,4.4M164.3,433.4l4.4,4.4m0,-4.4l-4.4,4.4M158.9,436.8l4.4,4.4m0,-4.4l-4.4,4.4M148.2,442.7l4.4,4.4m0,-4.4l-4.4,4.4M154.1,443.3l4.4,4.4m0,-4.4l-4.4,4.4M171.1,441.6l4.4,4.4m0,-4.4l-4.4,4.4M174.1,432.6l4.4,4.4m0,-4.4l-4.4,4.4M178.7,436.0l4.4,4.4m0,-4.4l-4.4,4.4M177.0,425.0l4.4,4.4m0,-4.4l-4.4,4.4M174.1,416.2l4.4,4.4m0,-4.4l-4.4,4.4M180.9,414.8l4.4,4.4m0,-4.4l-4.4,4.4M177.8,403.0l4.4,4.4m0,-4.4l-4.4,4.4M183.8,419.9l4.4,4.4m0,-4.4l-4.4,4.4M187.2,425.8l4.4,4.4m0,-4.4l-4.4,4.4M186.3,433.4l4.4,4.4m0,-4.4l-4.4,4.4M182.9,438.5l4.4,4.4m0,-4.4l-4.4,4.4M189.7,416.5l4.4,4.4m0,-4.4l-4.4,4.4M192.2,409.7l4.4,4.4m0,-4.4l-4.4,4.4M193.9,403.0l4.4,4.4m0,-4.4l-4.4,4.4M196.5,401.3l4.4,4.4m0,-4.4l-4.4,4.4M193.1,423.3l4.4,4.4m0,-4.4l-4.4,4.4M196.5,428.4l4.4,4.4m0,-4.4l-4.4,4.4M153.3,456.3l4.4,4.4m0,-4.4l-4.4,4.4M156.7,453.7l4.4,4.4m0,-4.4l-4.4,4.4M160.1,452.1l4.4,4.4m0,-4.4l-4.4,4.4M160.9,451.2l4.4,4.4m0,-4.4l-4.4,4.4M155.0,459.7l4.4,4.4m0,-4.4l-4.4,4.4M152.5,466.4l4.4,4.4m0,-4.4l-4.4,4.4M154.5,469.8l4.4,4.4m0,-4.4l-4.4,4.4M164.3,475.2l4.4,4.4m0,-4.4l-4.4,4.4M150.8,465.9l4.4,4.4m0,-4.4l-4.4,4.4M139.8,461.4l4.4,4.4m0,-4.4l-4.4,4.4M144.3,465.6l4.4,4.4m0,-4.4l-4.4,4.4M145.7,475.8l4.4,4.4m0,-4.4l-4.4,4.4M126.2,478.3l4.4,4.4m0,-4.4l-4.4,4.4M178.7,446.1l4.4,4.4m0,-4.4l-4.4,4.4M177.8,450.4l4.4,4.4m0,-4.4l-4.4,4.4M191.4,452.1l4.4,4.4m0,-4.4l-4.4,4.4M192.8,408.9l4.4,4.4m0,-4.4l-4.4,4.4M194.5,402.1l4.4,4.4m0,-4.4l-4.4,4.4M197.9,401.3l4.4,4.4m0,-4.4l-4.4,4.4M200.4,403.0l4.4,4.4m0,-4.4l-4.4,4.4M206.3,405.5l4.4,4.4m0,-4.4l-4.4,4.4M209.7,400.4l4.4,4.4m0,-4.4l-4.4,4.4M208.0,408.0l4.4,4.4m0,-4.4l-4.4,4.4M218.2,397.0l4.4,4.4m0,-4.4l-4.4,4.4M223.3,399.6l4.4,4.4m0,-4.4l-4.4,4.4M223.3,404.7l4.4,4.4m0,-4.4l-4.4,4.4M227.5,394.5l4.4,4.4m0,-4.4l-4.4,4.4M237.7,395.3l4.4,4.4m0,-4.4l-4.4,4.4M199.6,414.0l4.4,4.4m0,-4.4l-4.4,4.4M219.9,414.8l4.4,4.4m0,-4.4l-4.4,4.4M225.8,413.1l4.4,4.4m0,-4.4l-4.4,4.4M242.7,413.1l4.4,4.4m0,-4.4l-4.4,4.4M258.0,399.6l4.4,4.4m0,-4.4l-4.4,4.4M259.7,407.2l4.4,4.4m0,-4.4l-4.4,4.4M194.5,423.3l4.4,4.4m0,-4.4l-4.4,4.4M197.9,425.8l4.4,4.4m0,-4.4l-4.4,4.4M199.6,430.0l4.4,4.4m0,-4.4l-4.4,4.4M202.1,422.4l4.4,4.4m0,-4.4l-4.4,4.4M205.5,421.6l4.4,4.4m0,-4.4l-4.4,4.4M208.0,425.0l4.4,4.4m0,-4.4l-4.4,4.4M197.0,428.4l4.4,4.4m0,-4.4l-4.4,4.4M201.3,429.2l4.4,4.4m0,-4.4l-4.4,4.4M199.6,445.3l4.4,4.4m0,-4.4l-4.4,4.4M242.7,294.6l4.4,4.4m0,-4.4l-4.4,4.4M263.1,300.5l4.4,4.4m0,-4.4l-4.4,4.4M265.6,306.4l4.4,4.4m0,-4.4l-4.4,4.4M268.1,309.0l4.4,4.4m0,-4.4l-4.4,4.4M272.4,303.9l4.4,4.4m0,-4.4l-4.4,4.4M265.6,314.0l4.4,4.4m0,-4.4l-4.4,4.4M285.9,303.9l4.4,4.4m0,-4.4l-4.4,4.4M306.2,298.8l4.4,4.4m0,-4.4l-4.4,4.4M280.8,312.3l4.4,4.4m0,-4.4l-4.4,4.4M285.1,314.0l4.4,4.4m0,-4.4l-4.4,4.4M290.1,309.8l4.4,4.4m0,-4.4l-4.4,4.4M293.5,307.3l4.4,4.4m0,-4.4l-4.4,4.4M291.0,314.9l4.4,4.4m0,-4.4l-4.4,4.4M300.3,310.7l4.4,4.4m0,-4.4l-4.4,4.4M305.4,309.8l4.4,4.4m0,-4.4l-4.4,4.4M309.6,314.0l4.4,4.4m0,-4.4l-4.4,4.4M305.4,318.3l4.4,4.4m0,-4.4l-4.4,4.4M306.2,320.8l4.4,4.4m0,-4.4l-4.4,4.4M254.6,320.0l4.4,4.4m0,-4.4l-4.4,4.4M263.9,320.8l4.4,4.4m0,-4.4l-4.4,4.4M274.1,319.1l4.4,4.4m0,-4.4l-4.4,4.4M284.2,319.1l4.4,4.4m0,-4.4l-4.4,4.4M291.8,323.4l4.4,4.4m0,-4.4l-4.4,4.4M277.4,326.7l4.4,4.4m0,-4.4l-4.4,4.4M298.6,329.3l4.4,4.4m0,-4.4l-4.4,4.4M248.7,330.1l4.4,4.4m0,-4.4l-4.4,4.4M317.2,331.0l4.4,4.4m0,-4.4l-4.4,4.4M320.6,338.6l4.4,4.4m0,-4.4l-4.4,4.4M305.4,340.3l4.4,4.4m0,-4.4l-4.4,4.4M259.7,341.1l4.4,4.4m0,-4.4l-4.4,4.4M266.4,337.7l4.4,4.4m0,-4.4l-4.4,4.4M269.8,341.1l4.4,4.4m0,-4.4l-4.4,4.4M283.4,345.4l4.4,4.4m0,-4.4l-4.4,4.4M278.3,351.3l4.4,4.4m0,-4.4l-4.4,4.4M282.5,351.3l4.4,4.4m0,-4.4l-4.4,4.4M287.6,353.0l4.4,4.4m0,-4.4l-4.4,4.4M230.0,351.3l4.4,4.4m0,-4.4l-4.4,4.4M235.1,350.4l4.4,4.4m0,-4.4l-4.4,4.4M240.2,349.6l4.4,4.4m0,-4.4l-4.4,4.4M237.7,353.8l4.4,4.4m0,-4.4l-4.4,4.4M229.2,354.7l4.4,4.4m0,-4.4l-4.4,4.4M248.7,357.2l4.4,4.4m0,-4.4l-4.4,4.4M261.4,355.5l4.4,4.4m0,-4.4l-4.4,4.4M260.5,360.6l4.4,4.4m0,-4.4l-4.4,4.4M256.3,365.7l4.4,4.4m0,-4.4l-4.4,4.4M275.8,358.1l4.4,4.4m0,-4.4l-4.4,4.4M272.4,364.8l4.4,4.4m0,-4.4l-4.4,4.4M283.4,364.0l4.4,4.4m0,-4.4l-4.4,4.4M227.5,364.8l4.4,4.4m0,-4.4l-4.4,4.4M231.7,365.7l4.4,4.4m0,-4.4l-4.4,4.4M241.9,367.4l4.4,4.4m0,-4.4l-4.4,4.4M230.9,372.4l4.4,4.4m0,-4.4l-4.4,4.4M230.0,376.7l4.4,4.4m0,-4.4l-4.4,4.4M208.0,377.5l4.4,4.4m0,-4.4l-4.4,4.4M208.9,382.6l4.4,4.4m0,-4.4l-4.4,4.4M201.3,384.6l4.4,4.4m0,-4.4l-4.4,4.4M252.9,375.0l4.4,4.4m0,-4.4l-4.4,4.4M257.1,376.7l4.4,4.4m0,-4.4l-4.4,4.4M249.5,381.8l4.4,4.4m0,-4.4l-4.4,4.4M254.6,383.5l4.4,4.4m0,-4.4l-4.4,4.4M257.1,380.1l4.4,4.4m0,-4.4l-4.4,4.4M212.3,389.4l4.4,4.4m0,-4.4l-4.4,4.4M218.2,389.4l4.4,4.4m0,-4.4l-4.4,4.4M225.0,385.1l4.4,4.4m0,-4.4l-4.4,4.4M223.3,387.7l4.4,4.4m0,-4.4l-4.4,4.4M234.3,384.3l4.4,4.4m0,-4.4l-4.4,4.4M236.0,389.4l4.4,4.4m0,-4.4l-4.4,4.4M237.7,394.5l4.4,4.4m0,-4.4l-4.4,4.4M226.7,394.5l4.4,4.4m0,-4.4l-4.4,4.4M218.2,397.0l4.4,4.4m0,-4.4l-4.4,4.4M223.3,399.5l4.4,4.4m0,-4.4l-4.4,4.4M209.7,400.4l4.4,4.4m0,-4.4l-4.4,4.4M197.9,400.4l4.4,4.4m0,-4.4l-4.4,4.4M258.0,391.1l4.4,4.4m0,-4.4l-4.4,4.4M266.4,391.1l4.4,4.4m0,-4.4l-4.4,4.4M258.0,399.5l4.4,4.4m0,-4.4l-4.4,4.4M306.2,298.4l4.4,4.4m0,-4.4l-4.4,4.4M335.1,308.2l4.4,4.4m0,-4.4l-4.4,4.4M300.2,310.9l4.4,4.4m0,-4.4l-4.4,4.4M305.1,310.9l4.4,4.4m0,-4.4l-4.4,4.4M309.1,314.2l4.4,4.4m0,-4.4l-4.4,4.4M305.1,318.2l4.4,4.4m0,-4.4l-4.4,4.4M306.7,320.6l4.4,4.4m0,-4.4l-4.4,4.4M324.5,319.0l4.4,4.4m0,-4.4l-4.4,4.4M328.6,321.8l4.4,4.4m0,-4.4l-4.4,4.4M353.7,319.0l4.4,4.4m0,-4.4l-4.4,4.4M299.1,329.2l4.4,4.4m0,-4.4l-4.4,4.4M317.2,331.2l4.4,4.4m0,-4.4l-4.4,4.4M324.5,329.5l4.4,4.4m0,-4.4l-4.4,4.4M325.3,335.2l4.4,4.4m0,-4.4l-4.4,4.4M320.5,339.3l4.4,4.4m0,-4.4l-4.4,4.4M323.7,339.3l4.4,4.4m0,-4.4l-4.4,4.4M305.1,340.1l4.4,4.4m0,-4.4l-4.4,4.4M340.7,346.1l4.4,4.4m0,-4.4l-4.4,4.4M367.5,328.7l4.4,4.4m0,-4.4l-4.4,4.4M365.0,334.1l4.4,4.4m0,-4.4l-4.4,4.4M381.2,372.5l4.4,4.4m0,-4.4l-4.4,4.4M388.8,369.2l4.4,4.4m0,-4.4l-4.4,4.4M354.4,397.2l4.4,4.4m0,-4.4l-4.4,4.4" fill="none" stroke="#1515D5" stroke-width="1.05"/>
<path d="M645.6,412.1a1.2,1.2 0 1,0 -2.4,0a1.2,1.2 0 1,0 2.4,0M638.3,415.4a1.2,1.2 0 1,0 -2.4,0a1.2,1.2 0 1,0 2.4,0M600.2,438.4a1.2,1.2 0 1,0 -2.4,0a1.2,1.2 0 1,0 2.4,0M614.5,441.3a1.2,1.2 0 1,0 -2.4,0a1.2,1.2 0 1,0 2.4,0M615.6,444.1a1.2,1.2 0 1,0 -2.4,0a1.2,1.2 0 1,0 2.4,0M623.7,442.4a1.2,1.2 0 1,0 -2.4,0a1.2,1.2 0 1,0 2.4,0M608.7,445.0a1.2,1.2 0 1,0 -2.4,0a1.2,1.2 0 1,0 2.4,0M616.4,447.8a1.2,1.2 0 1,0 -2.4,0a1.2,1.2 0 1,0 2.4,0M597.8,448.6a1.2,1.2 0 1,0 -2.4,0a1.2,1.2 0 1,0 2.4,0M606.7,449.4a1.2,1.2 0 1,0 -2.4,0a1.2,1.2 0 1,0 2.4,0M624.5,449.4a1.2,1.2 0 1,0 -2.4,0a1.2,1.2 0 1,0 2.4,0M627.0,449.4a1.2,1.2 0 1,0 -2.4,0a1.2,1.2 0 1,0 2.4,0M638.3,435.3a1.2,1.2 0 1,0 -2.4,0a1.2,1.2 0 1,0 2.4,0M633.5,438.4a1.2,1.2 0 1,0 -2.4,0a1.2,1.2 0 1,0 2.4,0M642.8,438.4a1.2,1.2 0 1,0 -2.4,0a1.2,1.2 0 1,0 2.4,0M641.6,446.2a1.2,1.2 0 1,0 -2.4,0a1.2,1.2 0 1,0 2.4,0M633.5,453.1a1.2,1.2 0 1,0 -2.4,0a1.2,1.2 0 1,0 2.4,0M601.1,452.6a1.2,1.2 0 1,0 -2.4,0a1.2,1.2 0 1,0 2.4,0M598.6,454.3a1.2,1.2 0 1,0 -2.4,0a1.2,1.2 0 1,0 2.4,0M603.5,453.1a1.2,1.2 0 1,0 -2.4,0a1.2,1.2 0 1,0 2.4,0M605.9,453.1a1.2,1.2 0 1,0 -2.4,0a1.2,1.2 0 1,0 2.4,0M613.2,456.7a1.2,1.2 0 1,0 -2.4,0a1.2,1.2 0 1,0 2.4,0M614.8,458.6a1.2,1.2 0 1,0 -2.4,0a1.2,1.2 0 1,0 2.4,0M599.4,459.1a1.2,1.2 0 1,0 -2.4,0a1.2,1.2 0 1,0 2.4,0M593.4,460.3a1.2,1.2 0 1,0 -2.4,0a1.2,1.2 0 1,0 2.4,0M574.6,460.3a1.2,1.2 0 1,0 -2.4,0a1.2,1.2 0 1,0 2.4,0M581.6,458.0a1.2,1.2 0 1,0 -2.4,0a1.2,1.2 0 1,0 2.4,0M584.9,464.8a1.2,1.2 0 1,0 -2.4,0a1.2,1.2 0 1,0 2.4,0M578.4,464.0a1.2,1.2 0 1,0 -2.4,0a1.2,1.2 0 1,0 2.4,0M590.5,465.6a1.2,1.2 0 1,0 -2.4,0a1.2,1.2 0 1,0 2.4,0M579.2,468.0a1.2,1.2 0 1,0 -2.4,0a1.2,1.2 0 1,0 2.4,0M584.9,468.9a1.2,1.2 0 1,0 -2.4,0a1.2,1.2 0 1,0 2.4,0M601.1,463.2a1.2,1.2 0 1,0 -2.4,0a1.2,1.2 0 1,0 2.4,0M604.3,463.2a1.2,1.2 0 1,0 -2.4,0a1.2,1.2 0 1,0 2.4,0M609.2,471.3a1.2,1.2 0 1,0 -2.4,0a1.2,1.2 0 1,0 2.4,0M601.9,473.7a1.2,1.2 0 1,0 -2.4,0a1.2,1.2 0 1,0 2.4,0M579.2,471.3a1.2,1.2 0 1,0 -2.4,0a1.2,1.2 0 1,0 2.4,0M571.1,472.1a1.2,1.2 0 1,0 -2.4,0a1.2,1.2 0 1,0 2.4,0M565.4,473.7a1.2,1.2 0 1,0 -2.4,0a1.2,1.2 0 1,0 2.4,0M558.9,475.3a1.2,1.2 0 1,0 -2.4,0a1.2,1.2 0 1,0 2.4,0M564.6,476.1a1.2,1.2 0 1,0 -2.4,0a1.2,1.2 0 1,0 2.4,0M575.9,473.7a1.2,1.2 0 1,0 -2.4,0a1.2,1.2 0 1,0 2.4,0M580.8,475.3a1.2,1.2 0 1,0 -2.4,0a1.2,1.2 0 1,0 2.4,0M588.1,472.1a1.2,1.2 0 1,0 -2.4,0a1.2,1.2 0 1,0 2.4,0M592.1,474.5a1.2,1.2 0 1,0 -2.4,0a1.2,1.2 0 1,0 2.4,0M598.6,474.5a1.2,1.2 0 1,0 -2.4,0a1.2,1.2 0 1,0 2.4,0M551.6,488.3a1.2,1.2 0 1,0 -2.4,0a1.2,1.2 0 1,0 2.4,0M548.4,497.2a1.2,1.2 0 1,0 -2.4,0a1.2,1.2 0 1,0 2.4,0M544.4,498.8a1.2,1.2 0 1,0 -2.4,0a1.2,1.2 0 1,0 2.4,0M647.4,412.4a1.2,1.2 0 1,0 -2.4,0a1.2,1.2 0 1,0 2.4,0M648.5,429.6a1.2,1.2 0 1,0 -2.4,0a1.2,1.2 0 1,0 2.4,0M652.5,442.6a1.2,1.2 0 1,0 -2.4,0a1.2,1.2 0 1,0 2.4,0M658.2,439.3a1.2,1.2 0 1,0 -2.4,0a1.2,1.2 0 1,0 2.4,0M668.4,433.2a1.2,1.2 0 1,0 -2.4,0a1.2,1.2 0 1,0 2.4,0M674.4,435.6a1.2,1.2 0 1,0 -2.4,0a1.2,1.2 0 1,0 2.4,0M676.0,429.9a1.2,1.2 0 1,0 -2.4,0a1.2,1.2 0 1,0 2.4,0M675.2,428.0a1.2,1.2 0 1,0 -2.4,0a1.2,1.2 0 1,0 2.4,0M684.1,421.5a1.2,1.2 0 1,0 -2.4,0a1.2,1.2 0 1,0 2.4,0M688.7,418.6a1.2,1.2 0 1,0 -2.4,0a1.2,1.2 0 1,0 2.4,0M686.6,424.3a1.2,1.2 0 1,0 -2.4,0a1.2,1.2 0 1,0 2.4,0M689.0,425.1a1.2,1.2 0 1,0 -2.4,0a1.2,1.2 0 1,0 2.4,0M691.4,423.5a1.2,1.2 0 1,0 -2.4,0a1.2,1.2 0 1,0 2.4,0M696.3,427.0a1.2,1.2 0 1,0 -2.4,0a1.2,1.2 0 1,0 2.4,0M699.5,426.4a1.2,1.2 0 1,0 -2.4,0a1.2,1.2 0 1,0 2.4,0M702.0,424.3a1.2,1.2 0 1,0 -2.4,0a1.2,1.2 0 1,0 2.4,0M704.4,422.6a1.2,1.2 0 1,0 -2.4,0a1.2,1.2 0 1,0 2.4,0M707.6,419.4a1.2,1.2 0 1,0 -2.4,0a1.2,1.2 0 1,0 2.4,0M710.9,408.9a1.2,1.2 0 1,0 -2.4,0a1.2,1.2 0 1,0 2.4,0M707.6,413.7a1.2,1.2 0 1,0 -2.4,0a1.2,1.2 0 1,0 2.4,0M714.9,412.9a1.2,1.2 0 1,0 -2.4,0a1.2,1.2 0 1,0 2.4,0M716.5,408.1a1.2,1.2 0 1,0 -2.4,0a1.2,1.2 0 1,0 2.4,0M717.3,415.0a1.2,1.2 0 1,0 -2.4,0a1.2,1.2 0 1,0 2.4,0M722.2,409.7a1.2,1.2 0 1,0 -2.4,0a1.2,1.2 0 1,0 2.4,0M723.8,404.8a1.2,1.2 0 1,0 -2.4,0a1.2,1.2 0 1,0 2.4,0M726.2,406.4a1.2,1.2 0 1,0 -2.4,0a1.2,1.2 0 1,0 2.4,0M728.7,404.0a1.2,1.2 0 1,0 -2.4,0a1.2,1.2 0 1,0 2.4,0M730.3,399.2a1.2,1.2 0 1,0 -2.4,0a1.2,1.2 0 1,0 2.4,0M735.2,399.2a1.2,1.2 0 1,0 -2.4,0a1.2,1.2 0 1,0 2.4,0M738.4,396.7a1.2,1.2 0 1,0 -2.4,0a1.2,1.2 0 1,0 2.4,0M741.6,394.3a1.2,1.2 0 1,0 -2.4,0a1.2,1.2 0 1,0 2.4,0M730.3,391.1a1.2,1.2 0 1,0 -2.4,0a1.2,1.2 0 1,0 2.4,0M748.1,390.2a1.2,1.2 0 1,0 -2.4,0a1.2,1.2 0 1,0 2.4,0M753.0,386.2a1.2,1.2 0 1,0 -2.4,0a1.2,1.2 0 1,0 2.4,0M754.6,385.4a1.2,1.2 0 1,0 -2.4,0a1.2,1.2 0 1,0 2.4,0M757.0,382.1a1.2,1.2 0 1,0 -2.4,0a1.2,1.2 0 1,0 2.4,0M761.1,378.9a1.2,1.2 0 1,0 -2.4,0a1.2,1.2 0 1,0 2.4,0M680.9,427.5a1.2,1.2 0 1,0 -2.4,0a1.2,1.2 0 1,0 2.4,0M680.1,431.6a1.2,1.2 0 1,0 -2.4,0a1.2,1.2 0 1,0 2.4,0M682.5,432.4a1.2,1.2 0 1,0 -2.4,0a1.2,1.2 0 1,0 2.4,0M852.4,296.2a1.2,1.2 0 1,0 -2.4,0a1.2,1.2 0 1,0 2.4,0M818.6,328.6a1.2,1.2 0 1,0 -2.4,0a1.2,1.2 0 1,0 2.4,0M763.7,376.9a1.2,1.2 0 1,0 -2.4,0a1.2,1.2 0 1,0 2.4,0M765.3,375.2a1.2,1.2 0 1,0 -2.4,0a1.2,1.2 0 1,0 2.4,0M767.8,372.7a1.2,1.2 0 1,0 -2.4,0a1.2,1.2 0 1,0 2.4,0M770.3,371.0a1.2,1.2 0 1,0 -2.4,0a1.2,1.2 0 1,0 2.4,0M772.8,369.4a1.2,1.2 0 1,0 -2.4,0a1.2,1.2 0 1,0 2.4,0M775.3,367.7a1.2,1.2 0 1,0 -2.4,0a1.2,1.2 0 1,0 2.4,0M777.8,365.2a1.2,1.2 0 1,0 -2.4,0a1.2,1.2 0 1,0 2.4,0M780.3,363.2a1.2,1.2 0 1,0 -2.4,0a1.2,1.2 0 1,0 2.4,0M783.6,360.2a1.2,1.2 0 1,0 -2.4,0a1.2,1.2 0 1,0 2.4,0M786.1,357.7a1.2,1.2 0 1,0 -2.4,0a1.2,1.2 0 1,0 2.4,0M788.6,355.2a1.2,1.2 0 1,0 -2.4,0a1.2,1.2 0 1,0 2.4,0M791.1,352.7a1.2,1.2 0 1,0 -2.4,0a1.2,1.2 0 1,0 2.4,0M792.8,351.1a1.2,1.2 0 1,0 -2.4,0a1.2,1.2 0 1,0 2.4,0M794.4,349.4a1.2,1.2 0 1,0 -2.4,0a1.2,1.2 0 1,0 2.4,0M795.8,348.2a1.2,1.2 0 1,0 -2.4,0a1.2,1.2 0 1,0 2.4,0M569.6,472.0a1.2,1.2 0 1,0 -2.4,0a1.2,1.2 0 1,0 2.4,0M575.3,472.6a1.2,1.2 0 1,0 -2.4,0a1.2,1.2 0 1,0 2.4,0M578.4,466.9a1.2,1.2 0 1,0 -2.4,0a1.2,1.2 0 1,0 2.4,0M583.5,468.8a1.2,1.2 0 1,0 -2.4,0a1.2,1.2 0 1,0 2.4,0M584.8,482.1a1.2,1.2 0 1,0 -2.4,0a1.2,1.2 0 1,0 2.4,0M546.8,496.6a1.2,1.2 0 1,0 -2.4,0a1.2,1.2 0 1,0 2.4,0M569.6,483.4a1.2,1.2 0 1,0 -2.4,0a1.2,1.2 0 1,0 2.4,0M571.5,485.9a1.2,1.2 0 1,0 -2.4,0a1.2,1.2 0 1,0 2.4,0M593.6,475.1a1.2,1.2 0 1,0 -2.4,0a1.2,1.2 0 1,0 2.4,0M563.3,493.5a1.2,1.2 0 1,0 -2.4,0a1.2,1.2 0 1,0 2.4,0M568.3,493.5a1.2,1.2 0 1,0 -2.4,0a1.2,1.2 0 1,0 2.4,0M556.9,500.4a1.2,1.2 0 1,0 -2.4,0a1.2,1.2 0 1,0 2.4,0M568.3,479.7a1.2,1.2 0 1,0 -2.4,0a1.2,1.2 0 1,0 2.4,0M548.1,488.7a1.2,1.2 0 1,0 -2.4,0a1.2,1.2 0 1,0 2.4,0M541.3,494.7a1.2,1.2 0 1,0 -2.4,0a1.2,1.2 0 1,0 2.4,0M590.2,473.2a1.2,1.2 0 1,0 -2.4,0a1.2,1.2 0 1,0 2.4,0M580.7,472.4a1.2,1.2 0 1,0 -2.4,0a1.2,1.2 0 1,0 2.4,0M579.4,474.0a1.2,1.2 0 1,0 -2.4,0a1.2,1.2 0 1,0 2.4,0M549.3,490.6a1.2,1.2 0 1,0 -2.4,0a1.2,1.2 0 1,0 2.4,0M595.3,469.2a1.2,1.2 0 1,0 -2.4,0a1.2,1.2 0 1,0 2.4,0M545.2,495.3a1.2,1.2 0 1,0 -2.4,0a1.2,1.2 0 1,0 2.4,0M581.5,474.4a1.2,1.2 0 1,0 -2.4,0a1.2,1.2 0 1,0 2.4,0M559.0,481.7a1.2,1.2 0 1,0 -2.4,0a1.2,1.2 0 1,0 2.4,0M544.2,499.2a1.2,1.2 0 1,0 -2.4,0a1.2,1.2 0 1,0 2.4,0M546.6,497.7a1.2,1.2 0 1,0 -2.4,0a1.2,1.2 0 1,0 2.4,0M546.0,492.1a1.2,1.2 0 1,0 -2.4,0a1.2,1.2 0 1,0 2.4,0M600.4,467.4a1.2,1.2 0 1,0 -2.4,0a1.2,1.2 0 1,0 2.4,0M566.2,483.1a1.2,1.2 0 1,0 -2.4,0a1.2,1.2 0 1,0 2.4,0M548.7,491.0a1.2,1.2 0 1,0 -2.4,0a1.2,1.2 0 1,0 2.4,0M553.1,495.3a1.2,1.2 0 1,0 -2.4,0a1.2,1.2 0 1,0 2.4,0M583.5,476.7a1.2,1.2 0 1,0 -2.4,0a1.2,1.2 0 1,0 2.4,0M589.9,471.9a1.2,1.2 0 1,0 -2.4,0a1.2,1.2 0 1,0 2.4,0M563.4,480.9a1.2,1.2 0 1,0 -2.4,0a1.2,1.2 0 1,0 2.4,0M570.6,483.8a1.2,1.2 0 1,0 -2.4,0a1.2,1.2 0 1,0 2.4,0M566.5,489.2a1.2,1.2 0 1,0 -2.4,0a1.2,1.2 0 1,0 2.4,0M599.0,467.5a1.2,1.2 0 1,0 -2.4,0a1.2,1.2 0 1,0 2.4,0M598.4,465.0a1.2,1.2 0 1,0 -2.4,0a1.2,1.2 0 1,0 2.4,0M561.7,483.1a1.2,1.2 0 1,0 -2.4,0a1.2,1.2 0 1,0 2.4,0M581.9,474.6a1.2,1.2 0 1,0 -2.4,0a1.2,1.2 0 1,0 2.4,0M554.7,488.2a1.2,1.2 0 1,0 -2.4,0a1.2,1.2 0 1,0 2.4,0M560.2,480.3a1.2,1.2 0 1,0 -2.4,0a1.2,1.2 0 1,0 2.4,0M570.8,480.8a1.2,1.2 0 1,0 -2.4,0a1.2,1.2 0 1,0 2.4,0M543.9,497.1a1.2,1.2 0 1,0 -2.4,0a1.2,1.2 0 1,0 2.4,0M570.7,477.9a1.2,1.2 0 1,0 -2.4,0a1.2,1.2 0 1,0 2.4,0M553.3,487.3a1.2,1.2 0 1,0 -2.4,0a1.2,1.2 0 1,0 2.4,0M587.7,474.0a1.2,1.2 0 1,0 -2.4,0a1.2,1.2 0 1,0 2.4,0M546.7,491.8a1.2,1.2 0 1,0 -2.4,0a1.2,1.2 0 1,0 2.4,0M755.6,382.0a1.2,1.2 0 1,0 -2.4,0a1.2,1.2 0 1,0 2.4,0M787.0,354.3a1.2,1.2 0 1,0 -2.4,0a1.2,1.2 0 1,0 2.4,0M752.0,385.8a1.2,1.2 0 1,0 -2.4,0a1.2,1.2 0 1,0 2.4,0M754.4,384.3a1.2,1.2 0 1,0 -2.4,0a1.2,1.2 0 1,0 2.4,0M781.9,361.0a1.2,1.2 0 1,0 -2.4,0a1.2,1.2 0 1,0 2.4,0M754.0,385.0a1.2,1.2 0 1,0 -2.4,0a1.2,1.2 0 1,0 2.4,0M757.0,379.7a1.2,1.2 0 1,0 -2.4,0a1.2,1.2 0 1,0 2.4,0M775.1,366.7a1.2,1.2 0 1,0 -2.4,0a1.2,1.2 0 1,0 2.4,0M742.7,393.6a1.2,1.2 0 1,0 -2.4,0a1.2,1.2 0 1,0 2.4,0M789.2,354.5a1.2,1.2 0 1,0 -2.4,0a1.2,1.2 0 1,0 2.4,0M785.9,357.4a1.2,1.2 0 1,0 -2.4,0a1.2,1.2 0 1,0 2.4,0M781.2,358.9a1.2,1.2 0 1,0 -2.4,0a1.2,1.2 0 1,0 2.4,0M793.2,350.7a1.2,1.2 0 1,0 -2.4,0a1.2,1.2 0 1,0 2.4,0M787.3,354.7a1.2,1.2 0 1,0 -2.4,0a1.2,1.2 0 1,0 2.4,0M768.2,371.9a1.2,1.2 0 1,0 -2.4,0a1.2,1.2 0 1,0 2.4,0M764.4,373.7a1.2,1.2 0 1,0 -2.4,0a1.2,1.2 0 1,0 2.4,0M761.2,377.0a1.2,1.2 0 1,0 -2.4,0a1.2,1.2 0 1,0 2.4,0M748.5,389.1a1.2,1.2 0 1,0 -2.4,0a1.2,1.2 0 1,0 2.4,0M786.5,357.0a1.2,1.2 0 1,0 -2.4,0a1.2,1.2 0 1,0 2.4,0M777.7,360.8a1.2,1.2 0 1,0 -2.4,0a1.2,1.2 0 1,0 2.4,0M771.8,368.7a1.2,1.2 0 1,0 -2.4,0a1.2,1.2 0 1,0 2.4,0M778.1,362.8a1.2,1.2 0 1,0 -2.4,0a1.2,1.2 0 1,0 2.4,0" fill="none" stroke="#D41A28" stroke-width="1.05"/>
<path d="M630.0,456.1l4.4,4.4m0,-4.4l-4.4,4.4M639.0,458.6l4.4,4.4m0,-4.4l-4.4,4.4M639.8,460.2l4.4,4.4m0,-4.4l-4.4,4.4M606.6,460.2l4.4,4.4m0,-4.4l-4.4,4.4M598.5,465.0l4.4,4.4m0,-4.4l-4.4,4.4M611.4,466.7l4.4,4.4m0,-4.4l-4.4,4.4M621.9,466.7l4.4,4.4m0,-4.4l-4.4,4.4M624.4,465.0l4.4,4.4m0,-4.4l-4.4,4.4M630.9,472.3l4.4,4.4m0,-4.4l-4.4,4.4M613.0,477.2l4.4,4.4m0,-4.4l-4.4,4.4M620.3,478.0l4.4,4.4m0,-4.4l-4.4,4.4M634.9,483.7l4.4,4.4m0,-4.4l-4.4,4.4M642.2,483.7l4.4,4.4m0,-4.4l-4.4,4.4M613.0,482.0l4.4,4.4m0,-4.4l-4.4,4.4M614.7,486.9l4.4,4.4m0,-4.4l-4.4,4.4M605.8,486.9l4.4,4.4m0,-4.4l-4.4,4.4M595.2,488.5l4.4,4.4m0,-4.4l-4.4,4.4M596.8,494.2l4.4,4.4m0,-4.4l-4.4,4.4M611.4,490.1l4.4,4.4m0,-4.4l-4.4,4.4M571.7,498.2l4.4,4.4m0,-4.4l-4.4,4.4M557.1,499.1l4.4,4.4m0,-4.4l-4.4,4.4M560.4,499.1l4.4,4.4m0,-4.4l-4.4,4.4M540.9,498.2l4.4,4.4m0,-4.4l-4.4,4.4M745.0,371.9l4.4,4.4m0,-4.4l-4.4,4.4M754.1,368.6l4.4,4.4m0,-4.4l-4.4,4.4M714.3,377.5l4.4,4.4m0,-4.4l-4.4,4.4M738.2,379.1l4.4,4.4m0,-4.4l-4.4,4.4M735.0,383.2l4.4,4.4m0,-4.4l-4.4,4.4M737.4,384.0l4.4,4.4m0,-4.4l-4.4,4.4M732.6,388.1l4.4,4.4m0,-4.4l-4.4,4.4M725.3,390.5l4.4,4.4m0,-4.4l-4.4,4.4M718.8,394.5l4.4,4.4m0,-4.4l-4.4,4.4M713.9,399.4l4.4,4.4m0,-4.4l-4.4,4.4M710.7,401.8l4.4,4.4m0,-4.4l-4.4,4.4M715.6,401.0l4.4,4.4m0,-4.4l-4.4,4.4M722.0,399.4l4.4,4.4m0,-4.4l-4.4,4.4M719.6,406.7l4.4,4.4m0,-4.4l-4.4,4.4M713.9,407.5l4.4,4.4m0,-4.4l-4.4,4.4M712.3,414.0l4.4,4.4m0,-4.4l-4.4,4.4M713.1,418.0l4.4,4.4m0,-4.4l-4.4,4.4M702.6,408.3l4.4,4.4m0,-4.4l-4.4,4.4M699.4,409.9l4.4,4.4m0,-4.4l-4.4,4.4M694.5,413.2l4.4,4.4m0,-4.4l-4.4,4.4M693.7,415.6l4.4,4.4m0,-4.4l-4.4,4.4M701.0,413.2l4.4,4.4m0,-4.4l-4.4,4.4M704.2,425.3l4.4,4.4m0,-4.4l-4.4,4.4M708.3,426.9l4.4,4.4m0,-4.4l-4.4,4.4M726.9,422.9l4.4,4.4m0,-4.4l-4.4,4.4M726.9,427.7l4.4,4.4m0,-4.4l-4.4,4.4M671.8,422.9l4.4,4.4m0,-4.4l-4.4,4.4M678.3,422.9l4.4,4.4m0,-4.4l-4.4,4.4M675.1,428.6l4.4,4.4m0,-4.4l-4.4,4.4M676.7,431.8l4.4,4.4m0,-4.4l-4.4,4.4M671.0,433.4l4.4,4.4m0,-4.4l-4.4,4.4M671.0,437.5l4.4,4.4m0,-4.4l-4.4,4.4M671.8,441.5l4.4,4.4m0,-4.4l-4.4,4.4M680.7,436.7l4.4,4.4m0,-4.4l-4.4,4.4M684.0,431.0l4.4,4.4m0,-4.4l-4.4,4.4M686.4,427.7l4.4,4.4m0,-4.4l-4.4,4.4M686.4,434.2l4.4,4.4m0,-4.4l-4.4,4.4M684.8,433.4l4.4,4.4m0,-4.4l-4.4,4.4M693.7,432.6l4.4,4.4m0,-4.4l-4.4,4.4M694.5,434.2l4.4,4.4m0,-4.4l-4.4,4.4M662.1,438.3l4.4,4.4m0,-4.4l-4.4,4.4M656.4,439.1l4.4,4.4m0,-4.4l-4.4,4.4M666.1,445.2l4.4,4.4m0,-4.4l-4.4,4.4M673.4,443.9l4.4,4.4m0,-4.4l-4.4,4.4M655.3,447.2l4.4,4.4m0,-4.4l-4.4,4.4M649.1,450.4l4.4,4.4m0,-4.4l-4.4,4.4M646.2,465.0l4.4,4.4m0,-4.4l-4.4,4.4M768.1,294.3l4.4,4.4m0,-4.4l-4.4,4.4M750.3,318.1l4.4,4.4m0,-4.4l-4.4,4.4M758.1,321.1l4.4,4.4m0,-4.4l-4.4,4.4M764.4,320.6l4.4,4.4m0,-4.4l-4.4,4.4M761.1,324.7l4.4,4.4m0,-4.4l-4.4,4.4M766.1,325.1l4.4,4.4m0,-4.4l-4.4,4.4M772.7,318.1l4.4,4.4m0,-4.4l-4.4,4.4M779.4,325.6l4.4,4.4m0,-4.4l-4.4,4.4M782.4,330.1l4.4,4.4m0,-4.4l-4.4,4.4M776.1,332.7l4.4,4.4m0,-4.4l-4.4,4.4M771.1,334.4l4.4,4.4m0,-4.4l-4.4,4.4M791.0,318.9l4.4,4.4m0,-4.4l-4.4,4.4M791.0,328.9l4.4,4.4m0,-4.4l-4.4,4.4M791.9,332.2l4.4,4.4m0,-4.4l-4.4,4.4M750.3,331.7l4.4,4.4m0,-4.4l-4.4,4.4M751.1,338.4l4.4,4.4m0,-4.4l-4.4,4.4M760.3,341.0l4.4,4.4m0,-4.4l-4.4,4.4M763.6,345.5l4.4,4.4m0,-4.4l-4.4,4.4M768.6,348.9l4.4,4.4m0,-4.4l-4.4,4.4M762.8,352.2l4.4,4.4m0,-4.4l-4.4,4.4M763.1,354.7l4.4,4.4m0,-4.4l-4.4,4.4M763.1,358.8l4.4,4.4m0,-4.4l-4.4,4.4M770.2,358.8l4.4,4.4m0,-4.4l-4.4,4.4M771.9,363.8l4.4,4.4m0,-4.4l-4.4,4.4M784.4,348.9l4.4,4.4m0,-4.4l-4.4,4.4M788.6,343.9l4.4,4.4m0,-4.4l-4.4,4.4M816.0,324.4l4.4,4.4m0,-4.4l-4.4,4.4M849.3,332.2l4.4,4.4m0,-4.4l-4.4,4.4M761.1,371.3l4.4,4.4m0,-4.4l-4.4,4.4M763.1,379.6l4.4,4.4m0,-4.4l-4.4,4.4M672.0,438.8l4.4,4.4m0,-4.4l-4.4,4.4M680.3,438.3l4.4,4.4m0,-4.4l-4.4,4.4M607.6,462.5l4.4,4.4m0,-4.4l-4.4,4.4M610.2,468.2l4.4,4.4m0,-4.4l-4.4,4.4M601.9,468.2l4.4,4.4m0,-4.4l-4.4,4.4M599.3,473.4l4.4,4.4m0,-4.4l-4.4,4.4M644.2,484.2l4.4,4.4m0,-4.4l-4.4,4.4M603.0,479.0l4.4,4.4m0,-4.4l-4.4,4.4M604.0,482.1l4.4,4.4m0,-4.4l-4.4,4.4M598.8,483.2l4.4,4.4m0,-4.4l-4.4,4.4M565.2,476.6l4.4,4.4m0,-4.4l-4.4,4.4M568.3,481.1l4.4,4.4m0,-4.4l-4.4,4.4M571.6,480.9l4.4,4.4m0,-4.4l-4.4,4.4M572.2,481.6l4.4,4.4m0,-4.4l-4.4,4.4M580.8,479.8l4.4,4.4m0,-4.4l-4.4,4.4M558.3,487.5l4.4,4.4m0,-4.4l-4.4,4.4M546.0,497.7l4.4,4.4m0,-4.4l-4.4,4.4M539.3,491.5l4.4,4.4m0,-4.4l-4.4,4.4M606.3,474.2l4.4,4.4m0,-4.4l-4.4,4.4M579.1,478.6l4.4,4.4m0,-4.4l-4.4,4.4M551.5,498.2l4.4,4.4m0,-4.4l-4.4,4.4M543.1,496.9l4.4,4.4m0,-4.4l-4.4,4.4M551.6,492.6l4.4,4.4m0,-4.4l-4.4,4.4M570.1,485.3l4.4,4.4m0,-4.4l-4.4,4.4M569.2,487.6l4.4,4.4m0,-4.4l-4.4,4.4M579.5,475.2l4.4,4.4m0,-4.4l-4.4,4.4M571.0,481.1l4.4,4.4m0,-4.4l-4.4,4.4M555.7,486.3l4.4,4.4m0,-4.4l-4.4,4.4M608.2,475.6l4.4,4.4m0,-4.4l-4.4,4.4M585.6,476.8l4.4,4.4m0,-4.4l-4.4,4.4M560.0,489.2l4.4,4.4m0,-4.4l-4.4,4.4M545.1,499.3l4.4,4.4m0,-4.4l-4.4,4.4M586.9,469.3l4.4,4.4m0,-4.4l-4.4,4.4M566.5,491.0l4.4,4.4m0,-4.4l-4.4,4.4M602.3,469.6l4.4,4.4m0,-4.4l-4.4,4.4M552.8,491.9l4.4,4.4m0,-4.4l-4.4,4.4M594.3,460.4l4.4,4.4m0,-4.4l-4.4,4.4M566.2,488.3l4.4,4.4m0,-4.4l-4.4,4.4M541.8,491.5l4.4,4.4m0,-4.4l-4.4,4.4M554.6,485.3l4.4,4.4m0,-4.4l-4.4,4.4M542.5,490.8l4.4,4.4m0,-4.4l-4.4,4.4M592.9,484.1l4.4,4.4m0,-4.4l-4.4,4.4M546.8,494.8l4.4,4.4m0,-4.4l-4.4,4.4M543.8,498.2l4.4,4.4m0,-4.4l-4.4,4.4M592.6,476.5l4.4,4.4m0,-4.4l-4.4,4.4M570.5,489.2l4.4,4.4m0,-4.4l-4.4,4.4M551.5,492.3l4.4,4.4m0,-4.4l-4.4,4.4M580.6,476.9l4.4,4.4m0,-4.4l-4.4,4.4M545.6,492.4l4.4,4.4m0,-4.4l-4.4,4.4M557.4,491.4l4.4,4.4m0,-4.4l-4.4,4.4M603.6,470.2l4.4,4.4m0,-4.4l-4.4,4.4M596.0,468.6l4.4,4.4m0,-4.4l-4.4,4.4M550.2,486.0l4.4,4.4m0,-4.4l-4.4,4.4M583.5,483.6l4.4,4.4m0,-4.4l-4.4,4.4M546.8,497.9l4.4,4.4m0,-4.4l-4.4,4.4M556.0,490.3l4.4,4.4m0,-4.4l-4.4,4.4M589.3,473.5l4.4,4.4m0,-4.4l-4.4,4.4M545.1,498.9l4.4,4.4m0,-4.4l-4.4,4.4M543.8,493.1l4.4,4.4m0,-4.4l-4.4,4.4M578.0,478.8l4.4,4.4m0,-4.4l-4.4,4.4M559.3,477.8l4.4,4.4m0,-4.4l-4.4,4.4M572.2,486.5l4.4,4.4m0,-4.4l-4.4,4.4M577.7,482.6l4.4,4.4m0,-4.4l-4.4,4.4M548.4,491.8l4.4,4.4m0,-4.4l-4.4,4.4M599.5,472.2l4.4,4.4m0,-4.4l-4.4,4.4M550.3,489.9l4.4,4.4m0,-4.4l-4.4,4.4M588.9,478.4l4.4,4.4m0,-4.4l-4.4,4.4M601.3,468.8l4.4,4.4m0,-4.4l-4.4,4.4M595.8,468.6l4.4,4.4m0,-4.4l-4.4,4.4M544.8,492.7l4.4,4.4m0,-4.4l-4.4,4.4M542.8,499.8l4.4,4.4m0,-4.4l-4.4,4.4M585.2,476.5l4.4,4.4m0,-4.4l-4.4,4.4M557.0,492.8l4.4,4.4m0,-4.4l-4.4,4.4M556.3,484.8l4.4,4.4m0,-4.4l-4.4,4.4M550.5,492.7l4.4,4.4m0,-4.4l-4.4,4.4M553.4,490.0l4.4,4.4m0,-4.4l-4.4,4.4M577.4,484.6l4.4,4.4m0,-4.4l-4.4,4.4M555.6,485.6l4.4,4.4m0,-4.4l-4.4,4.4M599.6,470.9l4.4,4.4m0,-4.4l-4.4,4.4M557.1,490.8l4.4,4.4m0,-4.4l-4.4,4.4M569.4,487.1l4.4,4.4m0,-4.4l-4.4,4.4M563.7,488.1l4.4,4.4m0,-4.4l-4.4,4.4M577.9,483.5l4.4,4.4m0,-4.4l-4.4,4.4M599.0,474.2l4.4,4.4m0,-4.4l-4.4,4.4M602.2,465.6l4.4,4.4m0,-4.4l-4.4,4.4M575.4,475.8l4.4,4.4m0,-4.4l-4.4,4.4M548.6,494.8l4.4,4.4m0,-4.4l-4.4,4.4M599.2,471.1l4.4,4.4m0,-4.4l-4.4,4.4M585.6,478.0l4.4,4.4m0,-4.4l-4.4,4.4M580.9,479.0l4.4,4.4m0,-4.4l-4.4,4.4" fill="none" stroke="#1515D5" stroke-width="1.05"/>
<path d="M1086.5,436.2a1.2,1.2 0 1,0 -2.4,0a1.2,1.2 0 1,0 2.4,0M1089.6,441.9a1.2,1.2 0 1,0 -2.4,0a1.2,1.2 0 1,0 2.4,0M1095.5,440.1a1.2,1.2 0 1,0 -2.4,0a1.2,1.2 0 1,0 2.4,0M1100.9,441.9a1.2,1.2 0 1,0 -2.4,0a1.2,1.2 0 1,0 2.4,0M1096.9,447.2a1.2,1.2 0 1,0 -2.4,0a1.2,1.2 0 1,0 2.4,0M1099.5,448.5a1.2,1.2 0 1,0 -2.4,0a1.2,1.2 0 1,0 2.4,0M1083.6,444.5a1.2,1.2 0 1,0 -2.4,0a1.2,1.2 0 1,0 2.4,0M1085.0,445.8a1.2,1.2 0 1,0 -2.4,0a1.2,1.2 0 1,0 2.4,0M1087.6,447.8a1.2,1.2 0 1,0 -2.4,0a1.2,1.2 0 1,0 2.4,0M1086.3,455.8a1.2,1.2 0 1,0 -2.4,0a1.2,1.2 0 1,0 2.4,0M1088.9,457.1a1.2,1.2 0 1,0 -2.4,0a1.2,1.2 0 1,0 2.4,0M1078.3,450.2a1.2,1.2 0 1,0 -2.4,0a1.2,1.2 0 1,0 2.4,0M1075.7,451.8a1.2,1.2 0 1,0 -2.4,0a1.2,1.2 0 1,0 2.4,0M1069.7,449.4a1.2,1.2 0 1,0 -2.4,0a1.2,1.2 0 1,0 2.4,0M1066.4,450.5a1.2,1.2 0 1,0 -2.4,0a1.2,1.2 0 1,0 2.4,0M1067.7,455.1a1.2,1.2 0 1,0 -2.4,0a1.2,1.2 0 1,0 2.4,0M1069.0,458.4a1.2,1.2 0 1,0 -2.4,0a1.2,1.2 0 1,0 2.4,0M1063.8,455.1a1.2,1.2 0 1,0 -2.4,0a1.2,1.2 0 1,0 2.4,0M1061.1,456.4a1.2,1.2 0 1,0 -2.4,0a1.2,1.2 0 1,0 2.4,0M1065.1,462.4a1.2,1.2 0 1,0 -2.4,0a1.2,1.2 0 1,0 2.4,0M1064.4,466.4a1.2,1.2 0 1,0 -2.4,0a1.2,1.2 0 1,0 2.4,0M1072.4,465.1a1.2,1.2 0 1,0 -2.4,0a1.2,1.2 0 1,0 2.4,0M1070.4,461.1a1.2,1.2 0 1,0 -2.4,0a1.2,1.2 0 1,0 2.4,0M1056.5,451.1a1.2,1.2 0 1,0 -2.4,0a1.2,1.2 0 1,0 2.4,0M1052.5,455.1a1.2,1.2 0 1,0 -2.4,0a1.2,1.2 0 1,0 2.4,0M1048.5,461.7a1.2,1.2 0 1,0 -2.4,0a1.2,1.2 0 1,0 2.4,0M1054.5,459.8a1.2,1.2 0 1,0 -2.4,0a1.2,1.2 0 1,0 2.4,0M1057.1,461.1a1.2,1.2 0 1,0 -2.4,0a1.2,1.2 0 1,0 2.4,0M1058.5,463.7a1.2,1.2 0 1,0 -2.4,0a1.2,1.2 0 1,0 2.4,0M1054.5,465.7a1.2,1.2 0 1,0 -2.4,0a1.2,1.2 0 1,0 2.4,0M1051.8,467.0a1.2,1.2 0 1,0 -2.4,0a1.2,1.2 0 1,0 2.4,0M1049.2,465.7a1.2,1.2 0 1,0 -2.4,0a1.2,1.2 0 1,0 2.4,0M1053.2,470.4a1.2,1.2 0 1,0 -2.4,0a1.2,1.2 0 1,0 2.4,0M1055.8,467.7a1.2,1.2 0 1,0 -2.4,0a1.2,1.2 0 1,0 2.4,0M1037.9,465.1a1.2,1.2 0 1,0 -2.4,0a1.2,1.2 0 1,0 2.4,0M1039.9,467.0a1.2,1.2 0 1,0 -2.4,0a1.2,1.2 0 1,0 2.4,0M1038.6,470.4a1.2,1.2 0 1,0 -2.4,0a1.2,1.2 0 1,0 2.4,0M1035.9,473.0a1.2,1.2 0 1,0 -2.4,0a1.2,1.2 0 1,0 2.4,0M1041.2,472.3a1.2,1.2 0 1,0 -2.4,0a1.2,1.2 0 1,0 2.4,0M1045.2,471.0a1.2,1.2 0 1,0 -2.4,0a1.2,1.2 0 1,0 2.4,0M1047.2,472.3a1.2,1.2 0 1,0 -2.4,0a1.2,1.2 0 1,0 2.4,0M1042.5,475.6a1.2,1.2 0 1,0 -2.4,0a1.2,1.2 0 1,0 2.4,0M1039.9,478.3a1.2,1.2 0 1,0 -2.4,0a1.2,1.2 0 1,0 2.4,0M1033.9,478.3a1.2,1.2 0 1,0 -2.4,0a1.2,1.2 0 1,0 2.4,0M1030.0,480.9a1.2,1.2 0 1,0 -2.4,0a1.2,1.2 0 1,0 2.4,0M1028.0,482.9a1.2,1.2 0 1,0 -2.4,0a1.2,1.2 0 1,0 2.4,0M1024.0,484.3a1.2,1.2 0 1,0 -2.4,0a1.2,1.2 0 1,0 2.4,0M1023.7,480.3a1.2,1.2 0 1,0 -2.4,0a1.2,1.2 0 1,0 2.4,0M1016.7,485.2a1.2,1.2 0 1,0 -2.4,0a1.2,1.2 0 1,0 2.4,0M1018.7,491.6a1.2,1.2 0 1,0 -2.4,0a1.2,1.2 0 1,0 2.4,0M1012.1,492.2a1.2,1.2 0 1,0 -2.4,0a1.2,1.2 0 1,0 2.4,0M1009.4,492.9a1.2,1.2 0 1,0 -2.4,0a1.2,1.2 0 1,0 2.4,0M1013.4,496.2a1.2,1.2 0 1,0 -2.4,0a1.2,1.2 0 1,0 2.4,0M1004.8,499.5a1.2,1.2 0 1,0 -2.4,0a1.2,1.2 0 1,0 2.4,0M1007.4,498.2a1.2,1.2 0 1,0 -2.4,0a1.2,1.2 0 1,0 2.4,0M1057.1,455.8a1.2,1.2 0 1,0 -2.4,0a1.2,1.2 0 1,0 2.4,0M1059.8,458.4a1.2,1.2 0 1,0 -2.4,0a1.2,1.2 0 1,0 2.4,0M1176.6,393.3a1.2,1.2 0 1,0 -2.4,0a1.2,1.2 0 1,0 2.4,0M1174.9,403.0a1.2,1.2 0 1,0 -2.4,0a1.2,1.2 0 1,0 2.4,0M1182.8,403.9a1.2,1.2 0 1,0 -2.4,0a1.2,1.2 0 1,0 2.4,0M1185.5,405.1a1.2,1.2 0 1,0 -2.4,0a1.2,1.2 0 1,0 2.4,0M1177.5,407.4a1.2,1.2 0 1,0 -2.4,0a1.2,1.2 0 1,0 2.4,0M1194.3,397.7a1.2,1.2 0 1,0 -2.4,0a1.2,1.2 0 1,0 2.4,0M1197.9,395.0a1.2,1.2 0 1,0 -2.4,0a1.2,1.2 0 1,0 2.4,0M1200.5,393.3a1.2,1.2 0 1,0 -2.4,0a1.2,1.2 0 1,0 2.4,0M1203.2,391.5a1.2,1.2 0 1,0 -2.4,0a1.2,1.2 0 1,0 2.4,0M1204.9,388.0a1.2,1.2 0 1,0 -2.4,0a1.2,1.2 0 1,0 2.4,0M1152.4,411.8a1.2,1.2 0 1,0 -2.4,0a1.2,1.2 0 1,0 2.4,0M1154.5,413.6a1.2,1.2 0 1,0 -2.4,0a1.2,1.2 0 1,0 2.4,0M1166.9,414.5a1.2,1.2 0 1,0 -2.4,0a1.2,1.2 0 1,0 2.4,0M1126.3,418.9a1.2,1.2 0 1,0 -2.4,0a1.2,1.2 0 1,0 2.4,0M1122.7,422.4a1.2,1.2 0 1,0 -2.4,0a1.2,1.2 0 1,0 2.4,0M1132.4,422.4a1.2,1.2 0 1,0 -2.4,0a1.2,1.2 0 1,0 2.4,0M1134.2,426.9a1.2,1.2 0 1,0 -2.4,0a1.2,1.2 0 1,0 2.4,0M1141.3,421.5a1.2,1.2 0 1,0 -2.4,0a1.2,1.2 0 1,0 2.4,0M1143.1,422.4a1.2,1.2 0 1,0 -2.4,0a1.2,1.2 0 1,0 2.4,0M1147.5,423.3a1.2,1.2 0 1,0 -2.4,0a1.2,1.2 0 1,0 2.4,0M1149.2,424.2a1.2,1.2 0 1,0 -2.4,0a1.2,1.2 0 1,0 2.4,0M1144.8,427.4a1.2,1.2 0 1,0 -2.4,0a1.2,1.2 0 1,0 2.4,0M1147.5,427.7a1.2,1.2 0 1,0 -2.4,0a1.2,1.2 0 1,0 2.4,0M1136.9,431.3a1.2,1.2 0 1,0 -2.4,0a1.2,1.2 0 1,0 2.4,0M1136.0,433.9a1.2,1.2 0 1,0 -2.4,0a1.2,1.2 0 1,0 2.4,0M1108.6,422.1a1.2,1.2 0 1,0 -2.4,0a1.2,1.2 0 1,0 2.4,0M1109.5,429.5a1.2,1.2 0 1,0 -2.4,0a1.2,1.2 0 1,0 2.4,0M1113.0,430.4a1.2,1.2 0 1,0 -2.4,0a1.2,1.2 0 1,0 2.4,0M1107.7,431.3a1.2,1.2 0 1,0 -2.4,0a1.2,1.2 0 1,0 2.4,0M1122.7,429.5a1.2,1.2 0 1,0 -2.4,0a1.2,1.2 0 1,0 2.4,0M1127.1,431.3a1.2,1.2 0 1,0 -2.4,0a1.2,1.2 0 1,0 2.4,0M1105.0,437.5a1.2,1.2 0 1,0 -2.4,0a1.2,1.2 0 1,0 2.4,0M1110.3,436.6a1.2,1.2 0 1,0 -2.4,0a1.2,1.2 0 1,0 2.4,0M1111.2,439.2a1.2,1.2 0 1,0 -2.4,0a1.2,1.2 0 1,0 2.4,0M1104.2,441.0a1.2,1.2 0 1,0 -2.4,0a1.2,1.2 0 1,0 2.4,0M1096.2,441.9a1.2,1.2 0 1,0 -2.4,0a1.2,1.2 0 1,0 2.4,0M1098.9,446.3a1.2,1.2 0 1,0 -2.4,0a1.2,1.2 0 1,0 2.4,0M1104.2,445.4a1.2,1.2 0 1,0 -2.4,0a1.2,1.2 0 1,0 2.4,0M1121.8,441.9a1.2,1.2 0 1,0 -2.4,0a1.2,1.2 0 1,0 2.4,0M1263.6,341.6a1.2,1.2 0 1,0 -2.4,0a1.2,1.2 0 1,0 2.4,0M1313.6,296.7a1.2,1.2 0 1,0 -2.4,0a1.2,1.2 0 1,0 2.4,0M1191.2,398.6a1.2,1.2 0 1,0 -2.4,0a1.2,1.2 0 1,0 2.4,0M1206.2,386.9a1.2,1.2 0 1,0 -2.4,0a1.2,1.2 0 1,0 2.4,0M1211.2,383.6a1.2,1.2 0 1,0 -2.4,0a1.2,1.2 0 1,0 2.4,0M1212.8,382.7a1.2,1.2 0 1,0 -2.4,0a1.2,1.2 0 1,0 2.4,0M1216.2,380.2a1.2,1.2 0 1,0 -2.4,0a1.2,1.2 0 1,0 2.4,0M1219.5,378.2a1.2,1.2 0 1,0 -2.4,0a1.2,1.2 0 1,0 2.4,0M1222.8,376.1a1.2,1.2 0 1,0 -2.4,0a1.2,1.2 0 1,0 2.4,0M1226.1,373.6a1.2,1.2 0 1,0 -2.4,0a1.2,1.2 0 1,0 2.4,0M1228.6,371.6a1.2,1.2 0 1,0 -2.4,0a1.2,1.2 0 1,0 2.4,0M1232.8,367.8a1.2,1.2 0 1,0 -2.4,0a1.2,1.2 0 1,0 2.4,0M1234.5,366.1a1.2,1.2 0 1,0 -2.4,0a1.2,1.2 0 1,0 2.4,0M1238.6,363.3a1.2,1.2 0 1,0 -2.4,0a1.2,1.2 0 1,0 2.4,0M1241.1,361.6a1.2,1.2 0 1,0 -2.4,0a1.2,1.2 0 1,0 2.4,0M1243.6,359.4a1.2,1.2 0 1,0 -2.4,0a1.2,1.2 0 1,0 2.4,0M1246.1,356.9a1.2,1.2 0 1,0 -2.4,0a1.2,1.2 0 1,0 2.4,0M1065.1,456.9a1.2,1.2 0 1,0 -2.4,0a1.2,1.2 0 1,0 2.4,0M1066.6,450.8a1.2,1.2 0 1,0 -2.4,0a1.2,1.2 0 1,0 2.4,0M1056.1,453.7a1.2,1.2 0 1,0 -2.4,0a1.2,1.2 0 1,0 2.4,0M1070.4,461.8a1.2,1.2 0 1,0 -2.4,0a1.2,1.2 0 1,0 2.4,0M1066.4,462.4a1.2,1.2 0 1,0 -2.4,0a1.2,1.2 0 1,0 2.4,0M1056.1,465.9a1.2,1.2 0 1,0 -2.4,0a1.2,1.2 0 1,0 2.4,0M1051.6,466.8a1.2,1.2 0 1,0 -2.4,0a1.2,1.2 0 1,0 2.4,0M1065.5,453.6a1.2,1.2 0 1,0 -2.4,0a1.2,1.2 0 1,0 2.4,0M1049.2,460.7a1.2,1.2 0 1,0 -2.4,0a1.2,1.2 0 1,0 2.4,0M1061.3,460.4a1.2,1.2 0 1,0 -2.4,0a1.2,1.2 0 1,0 2.4,0M1058.7,463.4a1.2,1.2 0 1,0 -2.4,0a1.2,1.2 0 1,0 2.4,0M1057.8,461.8a1.2,1.2 0 1,0 -2.4,0a1.2,1.2 0 1,0 2.4,0M1055.7,462.0a1.2,1.2 0 1,0 -2.4,0a1.2,1.2 0 1,0 2.4,0M1062.2,458.7a1.2,1.2 0 1,0 -2.4,0a1.2,1.2 0 1,0 2.4,0M1065.7,460.7a1.2,1.2 0 1,0 -2.4,0a1.2,1.2 0 1,0 2.4,0M1057.3,458.7a1.2,1.2 0 1,0 -2.4,0a1.2,1.2 0 1,0 2.4,0M1073.1,460.3a1.2,1.2 0 1,0 -2.4,0a1.2,1.2 0 1,0 2.4,0M1062.3,457.0a1.2,1.2 0 1,0 -2.4,0a1.2,1.2 0 1,0 2.4,0M1056.5,457.1a1.2,1.2 0 1,0 -2.4,0a1.2,1.2 0 1,0 2.4,0M1062.0,466.2a1.2,1.2 0 1,0 -2.4,0a1.2,1.2 0 1,0 2.4,0M1242.9,361.3a1.2,1.2 0 1,0 -2.4,0a1.2,1.2 0 1,0 2.4,0M1195.5,394.7a1.2,1.2 0 1,0 -2.4,0a1.2,1.2 0 1,0 2.4,0M1223.2,373.2a1.2,1.2 0 1,0 -2.4,0a1.2,1.2 0 1,0 2.4,0M1198.6,393.5a1.2,1.2 0 1,0 -2.4,0a1.2,1.2 0 1,0 2.4,0M1201.4,390.2a1.2,1.2 0 1,0 -2.4,0a1.2,1.2 0 1,0 2.4,0M1216.3,379.8a1.2,1.2 0 1,0 -2.4,0a1.2,1.2 0 1,0 2.4,0M1193.2,398.4a1.2,1.2 0 1,0 -2.4,0a1.2,1.2 0 1,0 2.4,0M1214.7,381.5a1.2,1.2 0 1,0 -2.4,0a1.2,1.2 0 1,0 2.4,0M1219.3,377.2a1.2,1.2 0 1,0 -2.4,0a1.2,1.2 0 1,0 2.4,0M1193.9,395.6a1.2,1.2 0 1,0 -2.4,0a1.2,1.2 0 1,0 2.4,0M1233.6,365.2a1.2,1.2 0 1,0 -2.4,0a1.2,1.2 0 1,0 2.4,0M1224.9,372.2a1.2,1.2 0 1,0 -2.4,0a1.2,1.2 0 1,0 2.4,0M1244.0,357.4a1.2,1.2 0 1,0 -2.4,0a1.2,1.2 0 1,0 2.4,0M1212.1,384.0a1.2,1.2 0 1,0 -2.4,0a1.2,1.2 0 1,0 2.4,0M1222.4,374.5a1.2,1.2 0 1,0 -2.4,0a1.2,1.2 0 1,0 2.4,0M1195.6,394.6a1.2,1.2 0 1,0 -2.4,0a1.2,1.2 0 1,0 2.4,0M1217.1,378.7a1.2,1.2 0 1,0 -2.4,0a1.2,1.2 0 1,0 2.4,0M1215.1,379.1a1.2,1.2 0 1,0 -2.4,0a1.2,1.2 0 1,0 2.4,0M1226.6,372.0a1.2,1.2 0 1,0 -2.4,0a1.2,1.2 0 1,0 2.4,0M1209.2,385.5a1.2,1.2 0 1,0 -2.4,0a1.2,1.2 0 1,0 2.4,0M1236.1,364.7a1.2,1.2 0 1,0 -2.4,0a1.2,1.2 0 1,0 2.4,0M1196.8,394.8a1.2,1.2 0 1,0 -2.4,0a1.2,1.2 0 1,0 2.4,0M1193.2,396.8a1.2,1.2 0 1,0 -2.4,0a1.2,1.2 0 1,0 2.4,0M1236.9,365.2a1.2,1.2 0 1,0 -2.4,0a1.2,1.2 0 1,0 2.4,0" fill="none" stroke="#D41A28" stroke-width="1.05"/>
<path d="M1002.0,489.4l4.4,4.4m0,-4.4l-4.4,4.4M1008.7,486.7l4.4,4.4m0,-4.4l-4.4,4.4M1004.7,494.0l4.4,4.4m0,-4.4l-4.4,4.4M1007.3,497.3l4.4,4.4m0,-4.4l-4.4,4.4M1014.6,494.7l4.4,4.4m0,-4.4l-4.4,4.4M1016.0,492.7l4.4,4.4m0,-4.4l-4.4,4.4M1021.3,498.0l4.4,4.4m0,-4.4l-4.4,4.4M1024.6,484.1l4.4,4.4m0,-4.4l-4.4,4.4M1027.2,486.7l4.4,4.4m0,-4.4l-4.4,4.4M1033.8,494.7l4.4,4.4m0,-4.4l-4.4,4.4M1041.8,494.0l4.4,4.4m0,-4.4l-4.4,4.4M1053.7,498.6l4.4,4.4m0,-4.4l-4.4,4.4M1064.3,494.0l4.4,4.4m0,-4.4l-4.4,4.4M1083.5,466.2l4.4,4.4m0,-4.4l-4.4,4.4M1092.8,473.4l4.4,4.4m0,-4.4l-4.4,4.4M1086.2,452.9l4.4,4.4m0,-4.4l-4.4,4.4M1071.0,459.5l4.4,4.4m0,-4.4l-4.4,4.4M1055.7,467.5l4.4,4.4m0,-4.4l-4.4,4.4M1093.5,459.5l4.4,4.4m0,-4.4l-4.4,4.4M1096.1,461.5l4.4,4.4m0,-4.4l-4.4,4.4M1097.5,478.8l4.4,4.4m0,-4.4l-4.4,4.4M1182.1,377.8l4.4,4.4m0,-4.4l-4.4,4.4M1196.2,382.2l4.4,4.4m0,-4.4l-4.4,4.4M1199.8,383.1l4.4,4.4m0,-4.4l-4.4,4.4M1194.5,391.6l4.4,4.4m0,-4.4l-4.4,4.4M1187.4,397.6l4.4,4.4m0,-4.4l-4.4,4.4M1201.5,395.5l4.4,4.4m0,-4.4l-4.4,4.4M1174.1,399.0l4.4,4.4m0,-4.4l-4.4,4.4M1179.4,406.1l4.4,4.4m0,-4.4l-4.4,4.4M1175.0,409.6l4.4,4.4m0,-4.4l-4.4,4.4M1163.5,411.0l4.4,4.4m0,-4.4l-4.4,4.4M1144.1,414.9l4.4,4.4m0,-4.4l-4.4,4.4M1142.3,420.2l4.4,4.4m0,-4.4l-4.4,4.4M1147.6,425.9l4.4,4.4m0,-4.4l-4.4,4.4M1133.5,426.4l4.4,4.4m0,-4.4l-4.4,4.4M1136.1,431.7l4.4,4.4m0,-4.4l-4.4,4.4M1143.2,430.8l4.4,4.4m0,-4.4l-4.4,4.4M1143.2,435.3l4.4,4.4m0,-4.4l-4.4,4.4M1119.3,435.8l4.4,4.4m0,-4.4l-4.4,4.4M1172.4,435.8l4.4,4.4m0,-4.4l-4.4,4.4M1201.0,427.3l4.4,4.4m0,-4.4l-4.4,4.4M1105.2,445.0l4.4,4.4m0,-4.4l-4.4,4.4M1133.5,440.6l4.4,4.4m0,-4.4l-4.4,4.4M1139.7,442.3l4.4,4.4m0,-4.4l-4.4,4.4M1138.8,447.6l4.4,4.4m0,-4.4l-4.4,4.4M1137.9,450.3l4.4,4.4m0,-4.4l-4.4,4.4M1132.6,450.3l4.4,4.4m0,-4.4l-4.4,4.4M1129.9,454.7l4.4,4.4m0,-4.4l-4.4,4.4M1152.0,447.1l4.4,4.4m0,-4.4l-4.4,4.4M1149.4,462.3l4.4,4.4m0,-4.4l-4.4,4.4M1120.2,459.1l4.4,4.4m0,-4.4l-4.4,4.4M1124.6,457.4l4.4,4.4m0,-4.4l-4.4,4.4M1096.3,455.6l4.4,4.4m0,-4.4l-4.4,4.4M1102.5,455.6l4.4,4.4m0,-4.4l-4.4,4.4M1107.8,457.4l4.4,4.4m0,-4.4l-4.4,4.4M1103.4,460.9l4.4,4.4m0,-4.4l-4.4,4.4M1107.8,464.4l4.4,4.4m0,-4.4l-4.4,4.4M1105.2,471.5l4.4,4.4m0,-4.4l-4.4,4.4M1110.5,475.0l4.4,4.4m0,-4.4l-4.4,4.4M1120.2,471.5l4.4,4.4m0,-4.4l-4.4,4.4M1123.7,474.2l4.4,4.4m0,-4.4l-4.4,4.4M1099.0,479.5l4.4,4.4m0,-4.4l-4.4,4.4M1106.9,479.5l4.4,4.4m0,-4.4l-4.4,4.4M1106.1,483.9l4.4,4.4m0,-4.4l-4.4,4.4M1173.8,481.8l4.4,4.4m0,-4.4l-4.4,4.4M1310.2,294.5l4.4,4.4m0,-4.4l-4.4,4.4M1196.1,320.6l4.4,4.4m0,-4.4l-4.4,4.4M1200.3,318.1l4.4,4.4m0,-4.4l-4.4,4.4M1210.3,321.1l4.4,4.4m0,-4.4l-4.4,4.4M1216.1,326.8l4.4,4.4m0,-4.4l-4.4,4.4M1221.9,328.4l4.4,4.4m0,-4.4l-4.4,4.4M1217.8,331.4l4.4,4.4m0,-4.4l-4.4,4.4M1224.4,335.6l4.4,4.4m0,-4.4l-4.4,4.4M1225.2,341.4l4.4,4.4m0,-4.4l-4.4,4.4M1221.1,343.9l4.4,4.4m0,-4.4l-4.4,4.4M1212.8,344.7l4.4,4.4m0,-4.4l-4.4,4.4M1209.4,348.4l4.4,4.4m0,-4.4l-4.4,4.4M1216.1,348.9l4.4,4.4m0,-4.4l-4.4,4.4M1215.3,354.7l4.4,4.4m0,-4.4l-4.4,4.4M1217.8,353.1l4.4,4.4m0,-4.4l-4.4,4.4M1196.1,338.4l4.4,4.4m0,-4.4l-4.4,4.4M1230.2,319.8l4.4,4.4m0,-4.4l-4.4,4.4M1231.9,318.9l4.4,4.4m0,-4.4l-4.4,4.4M1235.2,318.1l4.4,4.4m0,-4.4l-4.4,4.4M1241.1,322.3l4.4,4.4m0,-4.4l-4.4,4.4M1241.9,324.8l4.4,4.4m0,-4.4l-4.4,4.4M1239.4,327.8l4.4,4.4m0,-4.4l-4.4,4.4M1240.2,330.6l4.4,4.4m0,-4.4l-4.4,4.4M1236.1,333.4l4.4,4.4m0,-4.4l-4.4,4.4M1261.0,331.8l4.4,4.4m0,-4.4l-4.4,4.4M1191.9,363.1l4.4,4.4m0,-4.4l-4.4,4.4M1192.8,366.7l4.4,4.4m0,-4.4l-4.4,4.4M1199.4,361.7l4.4,4.4m0,-4.4l-4.4,4.4M1206.9,368.1l4.4,4.4m0,-4.4l-4.4,4.4M1202.8,371.4l4.4,4.4m0,-4.4l-4.4,4.4M1199.4,373.9l4.4,4.4m0,-4.4l-4.4,4.4M1196.9,376.0l4.4,4.4m0,-4.4l-4.4,4.4M1202.8,382.2l4.4,4.4m0,-4.4l-4.4,4.4M1209.4,383.9l4.4,4.4m0,-4.4l-4.4,4.4M1231.1,377.2l4.4,4.4m0,-4.4l-4.4,4.4M1033.1,488.3l4.4,4.4m0,-4.4l-4.4,4.4M1064.8,482.1l4.4,4.4m0,-4.4l-4.4,4.4M1036.5,491.3l4.4,4.4m0,-4.4l-4.4,4.4M1076.5,483.1l4.4,4.4m0,-4.4l-4.4,4.4M1056.1,475.0l4.4,4.4m0,-4.4l-4.4,4.4M1061.5,470.2l4.4,4.4m0,-4.4l-4.4,4.4M1075.6,474.9l4.4,4.4m0,-4.4l-4.4,4.4M1081.1,486.1l4.4,4.4m0,-4.4l-4.4,4.4M1055.5,471.5l4.4,4.4m0,-4.4l-4.4,4.4M1032.4,492.0l4.4,4.4m0,-4.4l-4.4,4.4M1030.4,495.2l4.4,4.4m0,-4.4l-4.4,4.4M1052.5,484.2l4.4,4.4m0,-4.4l-4.4,4.4M1045.1,482.3l4.4,4.4m0,-4.4l-4.4,4.4M1080.4,475.0l4.4,4.4m0,-4.4l-4.4,4.4M1074.7,474.2l4.4,4.4m0,-4.4l-4.4,4.4M1061.2,489.4l4.4,4.4m0,-4.4l-4.4,4.4M1030.2,482.0l4.4,4.4m0,-4.4l-4.4,4.4M1077.8,474.0l4.4,4.4m0,-4.4l-4.4,4.4M1049.6,478.8l4.4,4.4m0,-4.4l-4.4,4.4M1052.4,479.4l4.4,4.4m0,-4.4l-4.4,4.4M1055.4,482.5l4.4,4.4m0,-4.4l-4.4,4.4M1059.1,490.0l4.4,4.4m0,-4.4l-4.4,4.4M1036.9,485.9l4.4,4.4m0,-4.4l-4.4,4.4M1059.5,486.3l4.4,4.4m0,-4.4l-4.4,4.4M1045.5,495.2l4.4,4.4m0,-4.4l-4.4,4.4M1045.3,485.6l4.4,4.4m0,-4.4l-4.4,4.4M1026.4,491.9l4.4,4.4m0,-4.4l-4.4,4.4M1074.4,479.1l4.4,4.4m0,-4.4l-4.4,4.4M1068.1,487.9l4.4,4.4m0,-4.4l-4.4,4.4M1049.4,497.0l4.4,4.4m0,-4.4l-4.4,4.4M1081.6,482.5l4.4,4.4m0,-4.4l-4.4,4.4M1047.3,475.4l4.4,4.4m0,-4.4l-4.4,4.4M1081.1,472.9l4.4,4.4m0,-4.4l-4.4,4.4M1026.6,491.6l4.4,4.4m0,-4.4l-4.4,4.4M1074.2,482.2l4.4,4.4m0,-4.4l-4.4,4.4M1039.4,476.6l4.4,4.4m0,-4.4l-4.4,4.4M1050.3,473.1l4.4,4.4m0,-4.4l-4.4,4.4M1072.3,482.1l4.4,4.4m0,-4.4l-4.4,4.4M1039.0,496.1l4.4,4.4m0,-4.4l-4.4,4.4M1057.4,489.4l4.4,4.4m0,-4.4l-4.4,4.4M1081.5,485.7l4.4,4.4m0,-4.4l-4.4,4.4M1050.7,485.1l4.4,4.4m0,-4.4l-4.4,4.4M1079.3,477.1l4.4,4.4m0,-4.4l-4.4,4.4M1058.0,476.2l4.4,4.4m0,-4.4l-4.4,4.4M1023.5,485.5l4.4,4.4m0,-4.4l-4.4,4.4M1061.4,475.6l4.4,4.4m0,-4.4l-4.4,4.4M1049.3,496.1l4.4,4.4m0,-4.4l-4.4,4.4M1023.6,481.2l4.4,4.4m0,-4.4l-4.4,4.4M1031.4,493.4l4.4,4.4m0,-4.4l-4.4,4.4M1066.2,471.8l4.4,4.4m0,-4.4l-4.4,4.4M1058.3,477.6l4.4,4.4m0,-4.4l-4.4,4.4M1055.3,474.6l4.4,4.4m0,-4.4l-4.4,4.4M1047.5,488.8l4.4,4.4m0,-4.4l-4.4,4.4M1022.5,481.7l4.4,4.4m0,-4.4l-4.4,4.4M1026.2,490.4l4.4,4.4m0,-4.4l-4.4,4.4M1033.8,488.9l4.4,4.4m0,-4.4l-4.4,4.4M1039.0,488.5l4.4,4.4m0,-4.4l-4.4,4.4M1048.2,477.2l4.4,4.4m0,-4.4l-4.4,4.4M1082.8,476.8l4.4,4.4m0,-4.4l-4.4,4.4M1055.9,484.2l4.4,4.4m0,-4.4l-4.4,4.4M1062.5,483.0l4.4,4.4m0,-4.4l-4.4,4.4M1042.9,488.5l4.4,4.4m0,-4.4l-4.4,4.4M1057.5,484.5l4.4,4.4m0,-4.4l-4.4,4.4M1026.2,491.9l4.4,4.4m0,-4.4l-4.4,4.4M1043.4,497.1l4.4,4.4m0,-4.4l-4.4,4.4M1026.9,491.9l4.4,4.4m0,-4.4l-4.4,4.4M1073.3,481.2l4.4,4.4m0,-4.4l-4.4,4.4M1065.5,481.1l4.4,4.4m0,-4.4l-4.4,4.4M1056.9,479.5l4.4,4.4m0,-4.4l-4.4,4.4M1049.1,474.7l4.4,4.4m0,-4.4l-4.4,4.4M1025.2,480.8l4.4,4.4m0,-4.4l-4.4,4.4M1038.6,488.7l4.4,4.4m0,-4.4l-4.4,4.4M1052.7,475.0l4.4,4.4m0,-4.4l-4.4,4.4M1048.0,482.3l4.4,4.4m0,-4.4l-4.4,4.4M1027.7,482.1l4.4,4.4m0,-4.4l-4.4,4.4M1055.2,489.1l4.4,4.4m0,-4.4l-4.4,4.4M1064.3,490.3l4.4,4.4m0,-4.4l-4.4,4.4M1069.2,488.1l4.4,4.4m0,-4.4l-4.4,4.4M1038.5,494.9l4.4,4.4m0,-4.4l-4.4,4.4M1048.0,486.1l4.4,4.4m0,-4.4l-4.4,4.4M1043.1,477.2l4.4,4.4m0,-4.4l-4.4,4.4M1048.4,472.4l4.4,4.4m0,-4.4l-4.4,4.4M1059.3,470.5l4.4,4.4m0,-4.4l-4.4,4.4M1042.4,495.7l4.4,4.4m0,-4.4l-4.4,4.4M1072.1,481.6l4.4,4.4m0,-4.4l-4.4,4.4" fill="none" stroke="#1515D5" stroke-width="1.05"/>
<rect x="70.5" y="2.5" width="363.0" height="212" fill="none" stroke="#000" stroke-width="1"/>
<line x1="65.00" y1="206.50" x2="70.50" y2="206.50" stroke="#000" stroke-width="1"/>
<text x="60.5" y="213.5" font-size="16.2" text-anchor="end" font-family='"Liberation Sans", sans-serif' >0.00</text>
<line x1="65.00" y1="165.50" x2="70.50" y2="165.50" stroke="#000" stroke-width="1"/>
<text x="60.5" y="172.3" font-size="16.2" text-anchor="end" font-family='"Liberation Sans", sans-serif' >0.25</text>
<line x1="65.00" y1="124.50" x2="70.50" y2="124.50" stroke="#000" stroke-width="1"/>
<text x="60.5" y="131.1" font-size="16.2" text-anchor="end" font-family='"Liberation Sans", sans-serif' >0.50</text>
<line x1="65.00" y1="82.50" x2="70.50" y2="82.50" stroke="#000" stroke-width="1"/>
<text x="60.5" y="89.9" font-size="16.2" text-anchor="end" font-family='"Liberation Sans", sans-serif' >0.75</text>
<line x1="65.00" y1="41.50" x2="70.50" y2="41.50" stroke="#000" stroke-width="1"/>
<text x="60.5" y="48.7" font-size="16.2" text-anchor="end" font-family='"Liberation Sans", sans-serif' >1.00</text>
<line x1="84.50" y1="214.50" x2="84.50" y2="220.00" stroke="#000" stroke-width="1"/>
<text x="84.5" y="234.0" font-size="16.2" text-anchor="middle" font-family='"Liberation Sans", sans-serif' >1</text>
<line x1="186.50" y1="214.50" x2="186.50" y2="220.00" stroke="#000" stroke-width="1"/>
<text x="186.5" y="234.0" font-size="16.2" text-anchor="middle" font-family='"Liberation Sans", sans-serif' >5</text>
<line x1="274.50" y1="214.50" x2="274.50" y2="220.00" stroke="#000" stroke-width="1"/>
<text x="274.5" y="234.0" font-size="16.2" text-anchor="middle" font-family='"Liberation Sans", sans-serif' >20</text>
<line x1="362.50" y1="214.50" x2="362.50" y2="220.00" stroke="#000" stroke-width="1"/>
<text x="362.4" y="234.0" font-size="16.2" text-anchor="middle" font-family='"Liberation Sans", sans-serif' >80</text>
<line x1="420.50" y1="214.50" x2="420.50" y2="220.00" stroke="#000" stroke-width="1"/>
<text x="420.5" y="234.0" font-size="16.2" text-anchor="middle" font-family='"Liberation Sans", sans-serif' >200</text>
<text x="252.0" y="252.0" font-size="16.2" text-anchor="middle" font-family='"Liberation Sans", sans-serif' >Epoch</text>
<text x="0" y="0" font-size="16.2" text-anchor="middle" font-family='"Liberation Sans", sans-serif' transform="translate(19.8,108.2) rotate(-90)" >Ratio</text>
<rect x="531.5" y="2.5" width="363.0" height="212" fill="none" stroke="#000" stroke-width="1"/>
<line x1="526.00" y1="206.50" x2="531.50" y2="206.50" stroke="#000" stroke-width="1"/>
<text x="521.5" y="213.5" font-size="16.2" text-anchor="end" font-family='"Liberation Sans", sans-serif' >0.00</text>
<line x1="526.00" y1="165.50" x2="531.50" y2="165.50" stroke="#000" stroke-width="1"/>
<text x="521.5" y="172.3" font-size="16.2" text-anchor="end" font-family='"Liberation Sans", sans-serif' >0.25</text>
<line x1="526.00" y1="124.50" x2="531.50" y2="124.50" stroke="#000" stroke-width="1"/>
<text x="521.5" y="131.1" font-size="16.2" text-anchor="end" font-family='"Liberation Sans", sans-serif' >0.50</text>
<line x1="526.00" y1="82.50" x2="531.50" y2="82.50" stroke="#000" stroke-width="1"/>
<text x="521.5" y="89.9" font-size="16.2" text-anchor="end" font-family='"Liberation Sans", sans-serif' >0.75</text>
<line x1="526.00" y1="41.50" x2="531.50" y2="41.50" stroke="#000" stroke-width="1"/>
<text x="521.5" y="48.7" font-size="16.2" text-anchor="end" font-family='"Liberation Sans", sans-serif' >1.00</text>
<line x1="544.50" y1="214.50" x2="544.50" y2="220.00" stroke="#000" stroke-width="1"/>
<text x="544.9" y="234.0" font-size="16.2" text-anchor="middle" font-family='"Liberation Sans", sans-serif' >1</text>
<line x1="646.50" y1="214.50" x2="646.50" y2="220.00" stroke="#000" stroke-width="1"/>
<text x="646.9" y="234.0" font-size="16.2" text-anchor="middle" font-family='"Liberation Sans", sans-serif' >5</text>
<line x1="734.50" y1="214.50" x2="734.50" y2="220.00" stroke="#000" stroke-width="1"/>
<text x="734.9" y="234.0" font-size="16.2" text-anchor="middle" font-family='"Liberation Sans", sans-serif' >20</text>
<line x1="822.50" y1="214.50" x2="822.50" y2="220.00" stroke="#000" stroke-width="1"/>
<text x="822.8" y="234.0" font-size="16.2" text-anchor="middle" font-family='"Liberation Sans", sans-serif' >80</text>
<line x1="880.50" y1="214.50" x2="880.50" y2="220.00" stroke="#000" stroke-width="1"/>
<text x="880.9" y="234.0" font-size="16.2" text-anchor="middle" font-family='"Liberation Sans", sans-serif' >200</text>
<text x="713.0" y="252.0" font-size="16.2" text-anchor="middle" font-family='"Liberation Sans", sans-serif' >Epoch</text>
<text x="0" y="0" font-size="16.2" text-anchor="middle" font-family='"Liberation Sans", sans-serif' transform="translate(480.2,108.2) rotate(-90)" >Ratio</text>
<rect x="991.5" y="2.5" width="363.0" height="212" fill="none" stroke="#000" stroke-width="1"/>
<line x1="986.00" y1="206.50" x2="991.50" y2="206.50" stroke="#000" stroke-width="1"/>
<text x="981.5" y="213.5" font-size="16.2" text-anchor="end" font-family='"Liberation Sans", sans-serif' >0.00</text>
<line x1="986.00" y1="165.50" x2="991.50" y2="165.50" stroke="#000" stroke-width="1"/>
<text x="981.5" y="172.3" font-size="16.2" text-anchor="end" font-family='"Liberation Sans", sans-serif' >0.25</text>
<line x1="986.00" y1="124.50" x2="991.50" y2="124.50" stroke="#000" stroke-width="1"/>
<text x="981.5" y="131.1" font-size="16.2" text-anchor="end" font-family='"Liberation Sans", sans-serif' >0.50</text>
<line x1="986.00" y1="82.50" x2="991.50" y2="82.50" stroke="#000" stroke-width="1"/>
<text x="981.5" y="89.9" font-size="16.2" text-anchor="end" font-family='"Liberation Sans", sans-serif' >0.75</text>
<line x1="986.00" y1="41.50" x2="991.50" y2="41.50" stroke="#000" stroke-width="1"/>
<text x="981.5" y="48.7" font-size="16.2" text-anchor="end" font-family='"Liberation Sans", sans-serif' >1.00</text>
<line x1="1005.50" y1="214.50" x2="1005.50" y2="220.00" stroke="#000" stroke-width="1"/>
<text x="1005.3" y="234.0" font-size="16.2" text-anchor="middle" font-family='"Liberation Sans", sans-serif' >1</text>
<line x1="1107.50" y1="214.50" x2="1107.50" y2="220.00" stroke="#000" stroke-width="1"/>
<text x="1107.3" y="234.0" font-size="16.2" text-anchor="middle" font-family='"Liberation Sans", sans-serif' >5</text>
<line x1="1195.50" y1="214.50" x2="1195.50" y2="220.00" stroke="#000" stroke-width="1"/>
<text x="1195.3" y="234.0" font-size="16.2" text-anchor="middle" font-family='"Liberation Sans", sans-serif' >20</text>
<line x1="1283.50" y1="214.50" x2="1283.50" y2="220.00" stroke="#000" stroke-width="1"/>
<text x="1283.2" y="234.0" font-size="16.2" text-anchor="middle" font-family='"Liberation Sans", sans-serif' >80</text>
<line x1="1341.50" y1="214.50" x2="1341.50" y2="220.00" stroke="#000" stroke-width="1"/>
<text x="1341.3" y="234.0" font-size="16.2" text-anchor="middle" font-family='"Liberation Sans", sans-serif' >200</text>
<text x="1173.0" y="252.0" font-size="16.2" text-anchor="middle" font-family='"Liberation Sans", sans-serif' >Epoch</text>
<text x="0" y="0" font-size="16.2" text-anchor="middle" font-family='"Liberation Sans", sans-serif' transform="translate(940.5999999999999,108.2) rotate(-90)" >Ratio</text>
<rect x="70.5" y="287.5" width="333.0" height="222.0" fill="none" stroke="#000" stroke-width="1"/>
<line x1="65.50" y1="289.50" x2="70.50" y2="289.50" stroke="#000" stroke-width="0.85"/>
<text x="60.3" y="297.3" font-size="15.2" text-anchor="end" font-family='"Liberation Sans", sans-serif'>5<tspan dx="2.7">×</tspan><tspan dx="2.35">10</tspan><tspan font-size="10.5" dy="-7.6">5</tspan></text>
<line x1="65.50" y1="356.50" x2="70.50" y2="356.50" stroke="#000" stroke-width="0.85"/>
<text x="60.3" y="363.7" font-size="15.2" text-anchor="end" font-family='"Liberation Sans", sans-serif'>2<tspan dx="2.7">×</tspan><tspan dx="2.35">10</tspan><tspan font-size="10.5" dy="-7.6">5</tspan></text>
<line x1="65.50" y1="406.50" x2="70.50" y2="406.50" stroke="#000" stroke-width="0.85"/>
<text x="60.3" y="413.9" font-size="15.2" text-anchor="end" font-family='"Liberation Sans", sans-serif'>10<tspan font-size="10.5" dy="-7.6">5</tspan></text>
<line x1="65.50" y1="456.50" x2="70.50" y2="456.50" stroke="#000" stroke-width="0.85"/>
<text x="60.3" y="464.1" font-size="15.2" text-anchor="end" font-family='"Liberation Sans", sans-serif'>5<tspan dx="2.7">×</tspan><tspan dx="2.35">10</tspan><tspan font-size="10.5" dy="-7.6">4</tspan></text>
<line x1="65.50" y1="493.50" x2="70.50" y2="493.50" stroke="#000" stroke-width="0.85"/>
<line x1="65.50" y1="472.50" x2="70.50" y2="472.50" stroke="#000" stroke-width="0.85"/>
<line x1="65.50" y1="443.50" x2="70.50" y2="443.50" stroke="#000" stroke-width="0.85"/>
<line x1="65.50" y1="432.50" x2="70.50" y2="432.50" stroke="#000" stroke-width="0.85"/>
<line x1="65.50" y1="422.50" x2="70.50" y2="422.50" stroke="#000" stroke-width="0.85"/>
<line x1="65.50" y1="413.50" x2="70.50" y2="413.50" stroke="#000" stroke-width="0.85"/>
<line x1="65.50" y1="326.50" x2="70.50" y2="326.50" stroke="#000" stroke-width="0.85"/>
<line x1="65.50" y1="305.50" x2="70.50" y2="305.50" stroke="#000" stroke-width="0.85"/>
<line x1="403.50" y1="498.50" x2="408.50" y2="498.50" stroke="#000" stroke-width="0.85"/>
<text x="413.8" y="504.7" font-size="15.2" text-anchor="start" font-family='"Liberation Sans", sans-serif' >0.5</text>
<line x1="403.50" y1="452.50" x2="408.50" y2="452.50" stroke="#000" stroke-width="0.85"/>
<text x="413.8" y="457.8" font-size="15.2" text-anchor="start" font-family='"Liberation Sans", sans-serif' >1.0</text>
<line x1="403.50" y1="405.50" x2="408.50" y2="405.50" stroke="#000" stroke-width="0.85"/>
<text x="413.8" y="410.9" font-size="15.2" text-anchor="start" font-family='"Liberation Sans", sans-serif' >2.0</text>
<line x1="403.50" y1="343.50" x2="408.50" y2="343.50" stroke="#000" stroke-width="0.85"/>
<text x="413.8" y="349.0" font-size="15.2" text-anchor="start" font-family='"Liberation Sans", sans-serif' >5.0</text>
<line x1="403.50" y1="296.50" x2="408.50" y2="296.50" stroke="#000" stroke-width="0.85"/>
<text x="413.8" y="302.1" font-size="15.2" text-anchor="start" font-family='"Liberation Sans", sans-serif' >10.0</text>
<line x1="132.50" y1="509.50" x2="132.50" y2="515.00" stroke="#000" stroke-width="0.85"/>
<text x="132.6" y="529.7" font-size="15.2" text-anchor="middle" font-family='"Liberation Sans", sans-serif' >0.1</text>
<line x1="204.50" y1="509.50" x2="204.50" y2="515.00" stroke="#000" stroke-width="0.85"/>
<text x="204.7" y="529.7" font-size="15.2" text-anchor="middle" font-family='"Liberation Sans", sans-serif' >0.2</text>
<line x1="300.50" y1="509.50" x2="300.50" y2="515.00" stroke="#000" stroke-width="0.85"/>
<text x="300.0" y="529.7" font-size="15.2" text-anchor="middle" font-family='"Liberation Sans", sans-serif' >0.5</text>
<line x1="372.50" y1="509.50" x2="372.50" y2="515.00" stroke="#000" stroke-width="0.85"/>
<text x="372.1" y="529.7" font-size="15.2" text-anchor="middle" font-family='"Liberation Sans", sans-serif' >1.0</text>
<text x="237.0" y="547.8" font-size="15.7" text-anchor="middle" font-family='"Liberation Sans", sans-serif' >SNR</text>
<text x="0" y="0" font-size="15.5" text-anchor="middle" font-family='"Liberation Sans", sans-serif' transform="translate(452,398.5) rotate(-90)">normSNR</text>
<g transform="translate(1.20,389.70) scale(0.9)" fill="none" stroke="#000" stroke-width="1.67" stroke-linecap="butt"><path d="M0.2,7.3 L4.5,0.3 L8.8,7.3"/><path d="M0.9,9.9 V20.5 M0.9,16.4 L8.7,9.9 M3.5,14.0 L8.9,20.5"/></g>
<rect x="531.5" y="287.5" width="332.0" height="222.0" fill="none" stroke="#000" stroke-width="1"/>
<line x1="526.50" y1="315.50" x2="531.50" y2="315.50" stroke="#000" stroke-width="0.85"/>
<text x="521.3" y="322.9" font-size="15.2" text-anchor="end" font-family='"Liberation Sans", sans-serif'>10<tspan font-size="10.5" dy="-7.6">5</tspan></text>
<line x1="526.50" y1="376.50" x2="531.50" y2="376.50" stroke="#000" stroke-width="0.85"/>
<text x="521.3" y="383.9" font-size="15.2" text-anchor="end" font-family='"Liberation Sans", sans-serif'>5<tspan dx="2.7">×</tspan><tspan dx="2.35">10</tspan><tspan font-size="10.5" dy="-7.6">4</tspan></text>
<line x1="526.50" y1="456.50" x2="531.50" y2="456.50" stroke="#000" stroke-width="0.85"/>
<text x="521.3" y="464.5" font-size="15.2" text-anchor="end" font-family='"Liberation Sans", sans-serif'>2<tspan dx="2.7">×</tspan><tspan dx="2.35">10</tspan><tspan font-size="10.5" dy="-7.6">4</tspan></text>
<line x1="526.50" y1="421.50" x2="531.50" y2="421.50" stroke="#000" stroke-width="0.85"/>
<line x1="526.50" y1="395.50" x2="531.50" y2="395.50" stroke="#000" stroke-width="0.85"/>
<line x1="526.50" y1="360.50" x2="531.50" y2="360.50" stroke="#000" stroke-width="0.85"/>
<line x1="526.50" y1="346.50" x2="531.50" y2="346.50" stroke="#000" stroke-width="0.85"/>
<line x1="526.50" y1="334.50" x2="531.50" y2="334.50" stroke="#000" stroke-width="0.85"/>
<line x1="526.50" y1="324.50" x2="531.50" y2="324.50" stroke="#000" stroke-width="0.85"/>
<line x1="863.50" y1="489.50" x2="868.50" y2="489.50" stroke="#000" stroke-width="0.85"/>
<text x="873.8" y="495.6" font-size="15.2" text-anchor="start" font-family='"Liberation Sans", sans-serif' >0.5</text>
<line x1="863.50" y1="450.50" x2="868.50" y2="450.50" stroke="#000" stroke-width="0.85"/>
<text x="873.8" y="455.7" font-size="15.2" text-anchor="start" font-family='"Liberation Sans", sans-serif' >1.0</text>
<line x1="863.50" y1="410.50" x2="868.50" y2="410.50" stroke="#000" stroke-width="0.85"/>
<text x="873.8" y="415.8" font-size="15.2" text-anchor="start" font-family='"Liberation Sans", sans-serif' >2.0</text>
<line x1="863.50" y1="357.50" x2="868.50" y2="357.50" stroke="#000" stroke-width="0.85"/>
<text x="873.8" y="363.0" font-size="15.2" text-anchor="start" font-family='"Liberation Sans", sans-serif' >5.0</text>
<line x1="863.50" y1="317.50" x2="868.50" y2="317.50" stroke="#000" stroke-width="0.85"/>
<text x="873.8" y="323.1" font-size="15.2" text-anchor="start" font-family='"Liberation Sans", sans-serif' >10.0</text>
<line x1="620.50" y1="509.50" x2="620.50" y2="515.00" stroke="#000" stroke-width="0.85"/>
<text x="620.4" y="529.7" font-size="15.2" text-anchor="middle" font-family='"Liberation Sans", sans-serif' >0.05</text>
<line x1="691.50" y1="509.50" x2="691.50" y2="515.00" stroke="#000" stroke-width="0.85"/>
<text x="691.9" y="529.7" font-size="15.2" text-anchor="middle" font-family='"Liberation Sans", sans-serif' >0.10</text>
<line x1="763.50" y1="509.50" x2="763.50" y2="515.00" stroke="#000" stroke-width="0.85"/>
<text x="763.4" y="529.7" font-size="15.2" text-anchor="middle" font-family='"Liberation Sans", sans-serif' >0.20</text>
<line x1="857.50" y1="509.50" x2="857.50" y2="515.00" stroke="#000" stroke-width="0.85"/>
<text x="857.9" y="529.7" font-size="15.2" text-anchor="middle" font-family='"Liberation Sans", sans-serif' >0.50</text>
<text x="697.5" y="547.8" font-size="15.7" text-anchor="middle" font-family='"Liberation Sans", sans-serif' >SNR</text>
<text x="0" y="0" font-size="15.5" text-anchor="middle" font-family='"Liberation Sans", sans-serif' transform="translate(913,398.5) rotate(-90)">normSNR</text>
<g transform="translate(461.90,389.70) scale(0.9)" fill="none" stroke="#000" stroke-width="1.67" stroke-linecap="butt"><path d="M0.2,7.3 L4.5,0.3 L8.8,7.3"/><path d="M0.9,9.9 V20.5 M0.9,16.4 L8.7,9.9 M3.5,14.0 L8.9,20.5"/></g>
<rect x="991.5" y="287.5" width="333.0" height="222.0" fill="none" stroke="#000" stroke-width="1"/>
<line x1="986.50" y1="340.50" x2="991.50" y2="340.50" stroke="#000" stroke-width="0.85"/>
<text x="981.3" y="347.9" font-size="15.2" text-anchor="end" font-family='"Liberation Sans", sans-serif'>10<tspan font-size="10.5" dy="-7.6">5</tspan></text>
<line x1="986.50" y1="393.50" x2="991.50" y2="393.50" stroke="#000" stroke-width="0.85"/>
<text x="981.3" y="401.4" font-size="15.2" text-anchor="end" font-family='"Liberation Sans", sans-serif'>5<tspan dx="2.7">×</tspan><tspan dx="2.35">10</tspan><tspan font-size="10.5" dy="-7.6">4</tspan></text>
<line x1="986.50" y1="464.50" x2="991.50" y2="464.50" stroke="#000" stroke-width="0.85"/>
<text x="981.3" y="472.2" font-size="15.2" text-anchor="end" font-family='"Liberation Sans", sans-serif'>2<tspan dx="2.7">×</tspan><tspan dx="2.35">10</tspan><tspan font-size="10.5" dy="-7.6">4</tspan></text>
<line x1="986.50" y1="433.50" x2="991.50" y2="433.50" stroke="#000" stroke-width="0.85"/>
<line x1="986.50" y1="411.50" x2="991.50" y2="411.50" stroke="#000" stroke-width="0.85"/>
<line x1="986.50" y1="379.50" x2="991.50" y2="379.50" stroke="#000" stroke-width="0.85"/>
<line x1="986.50" y1="367.50" x2="991.50" y2="367.50" stroke="#000" stroke-width="0.85"/>
<line x1="986.50" y1="357.50" x2="991.50" y2="357.50" stroke="#000" stroke-width="0.85"/>
<line x1="986.50" y1="348.50" x2="991.50" y2="348.50" stroke="#000" stroke-width="0.85"/>
<line x1="1324.50" y1="465.50" x2="1329.50" y2="465.50" stroke="#000" stroke-width="0.85"/>
<text x="1334.8" y="471.2" font-size="15.2" text-anchor="start" font-family='"Liberation Sans", sans-serif' >1</text>
<line x1="1324.50" y1="420.50" x2="1329.50" y2="420.50" stroke="#000" stroke-width="0.85"/>
<text x="1334.8" y="426.2" font-size="15.2" text-anchor="start" font-family='"Liberation Sans", sans-serif' >2</text>
<line x1="1324.50" y1="361.50" x2="1329.50" y2="361.50" stroke="#000" stroke-width="0.85"/>
<text x="1334.8" y="366.7" font-size="15.2" text-anchor="start" font-family='"Liberation Sans", sans-serif' >5</text>
<line x1="1324.50" y1="316.50" x2="1329.50" y2="316.50" stroke="#000" stroke-width="0.85"/>
<text x="1334.8" y="321.7" font-size="15.2" text-anchor="start" font-family='"Liberation Sans", sans-serif' >10</text>
<line x1="1055.50" y1="509.50" x2="1055.50" y2="515.00" stroke="#000" stroke-width="0.85"/>
<text x="1055.7" y="529.7" font-size="15.2" text-anchor="middle" font-family='"Liberation Sans", sans-serif' >0.05</text>
<line x1="1126.50" y1="509.50" x2="1126.50" y2="515.00" stroke="#000" stroke-width="0.85"/>
<text x="1126.6" y="529.7" font-size="15.2" text-anchor="middle" font-family='"Liberation Sans", sans-serif' >0.10</text>
<line x1="1197.50" y1="509.50" x2="1197.50" y2="515.00" stroke="#000" stroke-width="0.85"/>
<text x="1197.5" y="529.7" font-size="15.2" text-anchor="middle" font-family='"Liberation Sans", sans-serif' >0.20</text>
<line x1="1291.50" y1="509.50" x2="1291.50" y2="515.00" stroke="#000" stroke-width="0.85"/>
<text x="1291.2" y="529.7" font-size="15.2" text-anchor="middle" font-family='"Liberation Sans", sans-serif' >0.50</text>
<text x="1158.0" y="547.8" font-size="15.7" text-anchor="middle" font-family='"Liberation Sans", sans-serif' >SNR</text>
<text x="0" y="0" font-size="15.5" text-anchor="middle" font-family='"Liberation Sans", sans-serif' transform="translate(1374,398.5) rotate(-90)">normSNR</text>
<g transform="translate(922.50,389.70) scale(0.9)" fill="none" stroke="#000" stroke-width="1.67" stroke-linecap="butt"><path d="M0.2,7.3 L4.5,0.3 L8.8,7.3"/><path d="M0.9,9.9 V20.5 M0.9,16.4 L8.7,9.9 M3.5,14.0 L8.9,20.5"/></g>
<text x="226.8" y="595.0" font-size="31" text-anchor="middle" font-family='"Liberation Serif", serif' >(a) <tspan font-weight="bold">CNN</tspan></text>
<text x="687.5" y="595.0" font-size="31" text-anchor="middle" font-family='"Liberation Serif", serif' >(b) <tspan font-weight="bold">CNN+BN</tspan></text>
<text x="1148.5" y="595.0" font-size="31" text-anchor="middle" font-family='"Liberation Serif", serif' >(c) <tspan font-weight="bold">CNN+Res+BN</tspan></text>
<g stroke-width="0.8">
<line x1="245.1" y1="641.5" x2="283.9" y2="641.5" stroke="#C83030"/>
<line x1="245.1" y1="667.5" x2="283.9" y2="667.5" stroke="#202020"/>
<line x1="416.2" y1="641.5" x2="454.7" y2="641.5" stroke="#3030C0"/>
<line x1="416.2" y1="667.5" x2="454.7" y2="667.5" stroke="#9038C8"/>
<line x1="586.4" y1="641.5" x2="625.8" y2="641.5" stroke="#E8A848"/>
</g>
<g transform="translate(304.20,631.20) scale(1.0)" fill="none" stroke="#000" stroke-width="1.60" stroke-linecap="butt"><path d="M0.2,7.3 L4.5,0.3 L8.8,7.3"/><path d="M0.9,9.9 V20.5 M0.9,16.4 L8.7,9.9 M3.5,14.0 L8.9,20.5"/></g>
<text x="303.3" y="674.8" font-size="20.9" text-anchor="start" font-family='"Liberation Sans", sans-serif' >Train loss</text>
<text x="473.4" y="648.6" font-size="20.9" text-anchor="start" font-family='"Liberation Sans", sans-serif' >normSNR</text>
<text x="473.4" y="674.8" font-size="20.9" text-anchor="start" font-family='"Liberation Sans", sans-serif' >Valid loss</text>
<text x="644.5" y="648.6" font-size="20.9" text-anchor="start" font-family='"Liberation Sans", sans-serif' >SNR</text>
<circle cx="1074.5" cy="642.7" r="3.2" fill="none" stroke="#E01010" stroke-width="1"/>
<path d="M1070,664.4 L1080.6,675 M1080.6,664.4 L1070,675" stroke="#1010E0" stroke-width="1.1"/>
<text x="1097.0" y="653.3" font-size="23.4" text-anchor="start" font-family='"Liberation Sans", sans-serif' >SNR−</text>
<g transform="translate(1160.50,630.70) scale(1.13)" fill="none" stroke="#000" stroke-width="1.42" stroke-linecap="butt"><path d="M0.2,7.3 L4.5,0.3 L8.8,7.3"/><path d="M0.9,9.9 V20.5 M0.9,16.4 L8.7,9.9 M3.5,14.0 L8.9,20.5"/></g>
<text x="1097.0" y="677.7" font-size="23.4" text-anchor="start" font-family='"Liberation Sans", sans-serif' >SNR−normSNR</text>
</svg></body></html>
